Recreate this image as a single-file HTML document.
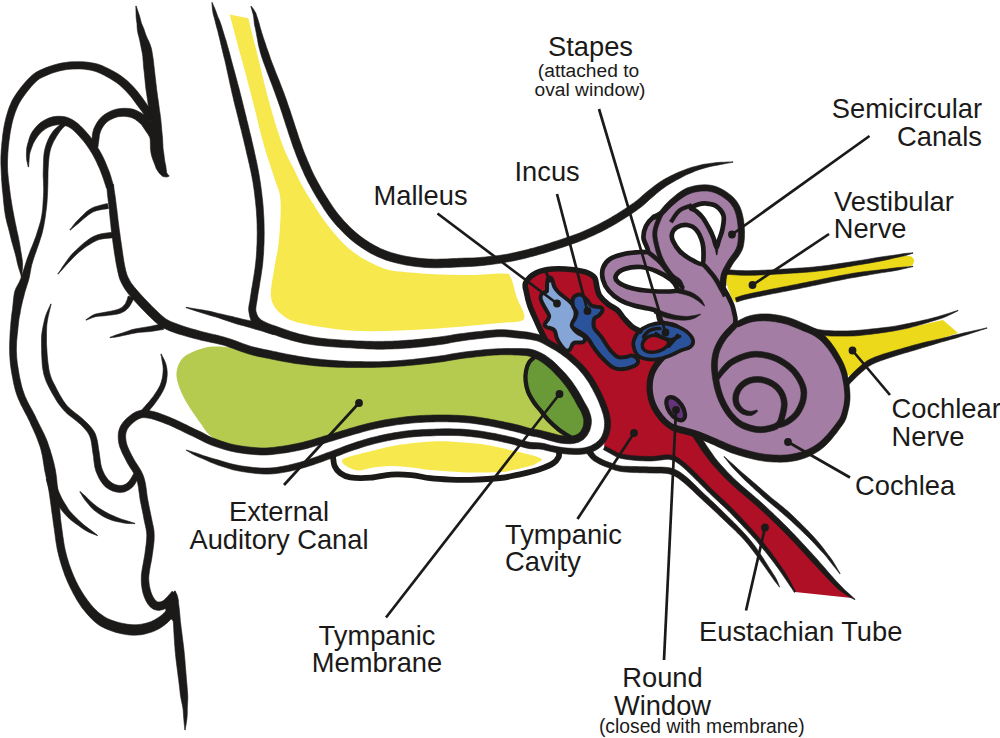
<!DOCTYPE html>
<html lang="en">
<head>
<meta charset="utf-8">
<title>Anatomy of the Ear</title>
<style>
html,body{margin:0;padding:0;background:#fff;}
body{width:1000px;height:738px;overflow:hidden;}
svg{display:block;}
svg text{font-family:"Liberation Sans",Arial,Helvetica,sans-serif;fill:#1b1a19;}
</style>
</head>
<body>
<svg width="1000" height="738" viewBox="0 0 1000 738">
<rect width="1000" height="738" fill="#fff"/>
<path d="M248.3,18.2C249.9,24.5 254.3,42.4 257.7,56C261.1,69.6 264.5,85.2 268.6,100C272.7,114.8 278.2,133.3 282.5,145C286.8,156.7 291.1,163.1 294.4,170C297.7,176.9 299.5,180.9 302.5,186.3C305.5,191.7 308.5,196.6 312.3,202.5C316.1,208.4 320.7,215.8 325.3,222C329.9,228.2 335.1,234.8 340,240C344.9,245.2 350,249.5 354.6,253C359.2,256.5 362.7,258.4 367.6,261C372.5,263.6 378.4,266.6 383.8,268.4C389.2,270.2 392.3,270.7 400,271.6C407.7,272.5 418.3,273.4 430,274C441.7,274.6 457.7,275.1 470,275C482.3,274.9 497.2,273 504,273.5C510.8,274 508.8,273.9 511,278C513.2,282.1 514.8,292 517,298C519.2,304 523.3,310.2 524,314C524.7,317.8 525,319.5 521,321C517,322.5 511.8,321.9 500,323C488.2,324.1 466.7,326.2 450,327.5C433.3,328.8 416.7,330 400,330.5C383.3,331 366.7,331.8 350,330.5C333.3,329.2 311.7,325.9 300,323C288.3,320.1 284.8,317.3 280,313C275.2,308.7 272,304.2 271,297C270,289.8 272.7,279.5 274,270C275.3,260.5 277.9,251.7 279,240C280.1,228.3 281.2,210 280.5,200C279.8,190 277.8,189.2 275,180C272.2,170.8 267.6,158.3 263.8,145C260.1,131.7 256.3,114.8 252.5,100C248.7,85.2 244.6,70.3 240.8,56C237,41.7 231.5,21.3 229.7,14.4Z" fill="#f7e84e"/>
<path d="M342.7,459.4C345.1,457.4 354.1,455.6 360.5,453.8C366.9,452 374,450.2 380.8,448.7C387.6,447.2 392.9,445.8 401.1,444.6C409.3,443.4 421.9,442 430,441.5C438.1,441 443.2,441.2 450,441.5C456.8,441.8 463.9,442.4 470.7,443.1C477.5,443.8 484.2,444.5 491,445.7C497.8,446.9 504.8,448.7 511.3,450.2C517.8,451.7 524.9,453.3 530,454.8C535.1,456.3 540.6,457.6 541.8,459C543,460.4 538.9,461.8 537,463C535.1,464.2 534.5,464.8 530.2,466C525.9,467.2 515.9,469.5 511,470.5C506.1,471.5 507.4,471.6 500.7,472C494,472.4 479.1,472.7 470.7,472.6C462.2,472.5 456.8,471.9 450,471.5C443.2,471.1 436.4,470.7 430,470C423.6,469.3 417.8,468.2 411.3,467.5C404.8,466.8 397.8,465.9 391,466C384.2,466.1 376.1,467.2 370.7,468C365.3,468.8 362.6,470.8 358.5,470.5C354.4,470.2 348.9,467.9 346.3,466C343.7,464.1 340.3,461.4 342.7,459.4Z" fill="#f7e84e"/>
<path d="M191,352.8C196.6,350.4 204,346.9 213.8,346.5C223.6,346.1 240.6,348.8 250,350.2C259.4,351.6 263.2,353.3 270,354.7C276.8,356.1 283.9,357.6 290.7,358.8C297.5,360 304.3,361 311,361.8C317.7,362.6 324.5,363.2 331,363.6C337.5,364 341.8,364.2 350,364.4C358.2,364.5 370,364.8 380,364.5C390,364.2 400,363.4 410,362.5C420,361.6 431.7,360.1 440,359C448.3,357.9 453.2,356.7 460,355.7C466.8,354.7 473.9,353.9 480.7,353.2C487.5,352.5 494.3,351.9 501,351.7C507.7,351.5 516.1,351.7 521,351.9C525.9,352.1 527,352 530.2,352.8C533.4,353.6 536.9,354.9 540.3,356.8C543.7,358.7 547.1,361.1 550.5,364C553.9,366.9 557.7,370.8 560.7,374.1C563.8,377.4 566.3,380.5 568.8,383.8C571.3,387.1 573.5,390.6 575.5,394C577.5,397.4 579.4,401.2 581,404C582.6,406.8 583.9,408.3 585,411C586.1,413.7 587.4,417.2 587.6,420.3C587.8,423.4 587.1,426.8 586,429.5C584.9,432.2 583.2,434.9 581,436.6C578.8,438.3 576.2,439.4 572.8,439.8C569.4,440.2 564.4,439.8 560.7,439.3C557,438.8 553.9,437.7 550.5,436.8C547.1,435.9 543.7,434.8 540.3,434C536.9,433.2 533.4,432.8 530,432C526.6,431.2 523.2,430 520,429.2C516.8,428.4 515.8,428.1 511,427C506.2,425.9 497.7,424 491,422.8C484.3,421.6 477.5,420.4 470.7,419.7C463.9,419 457.1,418.7 450.3,418.5C443.5,418.3 436.5,418.4 430,418.6C423.5,418.8 417.8,419.1 411.3,419.7C404.8,420.3 397.8,421.2 391,422.3C384.2,423.4 377.5,424.7 370.7,426.3C363.9,427.9 357.1,429.9 350.3,431.9C343.5,433.8 338.4,435.6 330,438C321.6,440.4 310,444.3 300,446.5C290,448.7 278.2,450.5 270,451.2C261.8,451.9 257.5,451.3 251,450.7C244.5,450.1 237.7,450.1 231,447.6C224.3,445.2 215.8,440.1 210.7,436C205.6,431.9 203.7,427.5 200.5,423.2C197.3,418.9 194.1,414.2 191.3,410C188.6,405.8 186.1,402.2 184,398C181.9,393.8 179.8,389.2 178.5,385C177.2,380.8 176.2,377 176.5,373C176.8,369 178.1,364.4 180.5,361C182.9,357.6 185.4,355.2 191,352.8Z" fill="#b4cb50"/>
<path d="M795,592C792.7,588.2 786.8,577.8 781,569.5C775.2,561.2 768.5,552 760.5,542.5C752.5,533 741.2,521 733,512.5C724.8,504 717.6,497.9 711,491.5C704.4,485.1 698.5,478.8 693.5,474C688.5,469.2 684.6,465.3 680.7,462.5C676.8,459.7 674.8,457.8 670,457.2C665.2,456.6 658,458.6 652,458.7C646,458.8 639.3,458.5 634,458C628.7,457.5 623.8,456.9 620,455.9C616.2,454.9 614.1,453.1 611.5,451.8C608.9,450.5 605.1,451.4 604.3,447.8C603.5,444.2 606.4,435.1 606.9,430.5C607.4,425.9 607.7,423.7 607.4,420.3C607.1,416.9 606.1,413.6 605,410C603.9,406.4 602.1,402.2 600.5,398.5C598.9,394.8 597.1,391.3 595.2,387.8C593.3,384.3 591.5,381.1 589.1,377.7C586.7,374.3 584,370.8 581,367.5C578,364.2 574.2,360.8 570.8,357.9C567.4,355 564.1,352.5 560.7,350.2C557.3,347.9 553.1,345.9 550.5,344.1C547.9,342.3 546.6,341.7 545,339.5C543.4,337.3 542.5,334.2 541,331C539.5,327.8 537.9,324.2 536,320C534.1,315.8 531.4,310.1 529.8,305.5C528.2,300.9 527.2,296.3 526.5,292.5C525.8,288.7 524.1,286.1 525.7,282.8C527.3,279.6 531.5,275.3 536,273C540.5,270.7 546.2,269.5 552.5,269C558.8,268.5 567.8,269.1 573.7,269.8C579.6,270.5 584.5,271.6 588,273C591.5,274.4 593.3,275.6 594.8,278C596.3,280.4 596.2,284.6 597,287.6C597.8,290.6 597.9,293.1 599.7,295.8C601.5,298.5 604.8,301.6 607.8,304C610.8,306.4 614.9,308 617.6,310.4C620.3,312.8 621.6,315.8 624,318.5C626.4,321.2 628.5,324.8 632,326.7C635.5,328.6 638.2,330.3 645,330C651.8,329.7 665.5,323.3 673,325C680.5,326.7 689.5,336 690,340C690.5,344 680.3,346.3 676,349C671.7,351.7 668,352 664,356C660,360 654.3,366.8 652,373C649.7,379.2 649.2,386.5 650,393C650.8,399.5 653.3,406.3 657,412C660.7,417.7 665.5,423.3 672,427C678.5,430.7 690.8,430.7 696,434C701.2,437.3 699.3,441.7 703,447C706.7,452.3 712.3,459.5 718,466C723.7,472.5 729.7,479 737,486C744.3,493 753.8,500.7 762,508C770.2,515.3 777.8,522 786,530C794.2,538 802.8,547.2 811,556C819.2,564.8 828.2,576 835,583C841.8,590 849.2,595.5 852,598Z" fill="#af1025"/>
<path d="M726,272C728.7,267.3 739.3,273.2 750,273C760.7,272.8 777.5,271.8 790,271C802.5,270.2 810.8,269.8 825,268C839.2,266.2 861.7,262 875,260C888.3,258 898.7,256.3 905,256C911.3,255.7 911.7,256.7 913,258C914.3,259.3 914.3,262.5 913,264C911.7,265.5 915.5,265 905,267C894.5,269 867.5,272.8 850,276C832.5,279.2 816.7,282.7 800,286C783.3,289.3 761,293.5 750,296C739,298.5 738,305 734,301C730,297 723.3,276.7 726,272Z" fill="#ecd919"/>
<path d="M800,326L820,334L863,335L900,330L943,320L958,333L913,348L875,360L855,378L840,372L835,350Z" fill="#ecd919"/>
<path d="M690,340C690,336.2 680.8,329 676,326C671.2,323 664.2,324.4 661,322C657.8,319.6 659.2,313.8 657,311.5C654.8,309.2 651.8,309.5 648,308.5C644.2,307.5 638.7,306.9 634,305.5C629.3,304.1 624.2,302.4 620,300C615.8,297.6 611.8,294.3 609,291C606.2,287.7 604,283.8 603,280C602,276.2 601.8,271.5 603,268C604.2,264.5 606.5,261.3 610,259C613.5,256.7 619,255.2 624,254C629,252.8 636,252.5 640,252C644,251.5 647.4,253.3 648,251C648.6,248.7 643.8,242.2 643.5,238C643.2,233.8 644.4,229.4 646,226C647.6,222.6 650.6,219.5 653,217.5C655.4,215.5 657.5,216.4 660.5,214C663.5,211.6 666.4,206.8 671,203C675.6,199.2 681.8,193.5 688,191C694.2,188.5 702,187.5 708,188C714,188.5 719.3,191 724,194C728.7,197 733.2,200.8 736,206C738.8,211.2 740.3,218.2 741,225C741.7,231.8 741.8,240.7 740,247C738.2,253.3 732.7,258.3 730,263C727.3,267.7 725.2,271.2 724,275C722.8,278.8 722.3,282.5 723,286C723.7,289.5 726.4,292.7 728,296C729.6,299.3 731.2,302.1 732.4,305.6C733.6,309.1 734.4,313.9 735.2,317C736,320.1 734.4,324.2 737,324.5C739.6,324.8 745.8,320 750.8,318.8C755.8,317.6 761.2,317.1 767,317.4C772.8,317.6 779.6,318.8 785.4,320.3C791.2,321.8 796.5,324.3 801.6,326.4C806.7,328.5 811.8,330.5 815.9,333C820,335.5 822.6,337.8 826,341.6C829.4,345.4 833.2,350.8 836.2,355.9C839.2,361 841.9,365.5 843.8,372C845.7,378.5 847.2,388.3 847.4,395C847.6,401.7 846.3,407.2 845,412C843.7,416.8 843.7,418.3 839.5,424C835.3,429.7 827.2,440.5 820,446C812.8,451.5 804.8,455 796,457C787.2,459 776.8,459 767,458C757.2,457 746,453.8 737,451C728,448.2 719.8,443.8 713,441C706.2,438.2 702.8,436.3 696,434C689.2,431.7 678.5,430.7 672,427C665.5,423.3 660.7,417.7 657,412C653.3,406.3 650.8,399.5 650,393C649.2,386.5 649.7,379.2 652,373C654.3,366.8 660,360 664,356C668,352 671.7,351.7 676,349C680.3,346.3 690,343.8 690,340ZM691,208C691.3,206.9 695.5,205.2 698,204.5C700.5,203.8 703,203.2 706,203.5C709,203.8 713.1,204 716,206C718.9,208 722.4,211.8 723.5,215.6C724.6,219.4 723.2,224.9 722.5,229C721.8,233.1 720,237 719,240C718,243 717.4,247.3 716.5,247C715.6,246.7 714.6,240.8 713.5,238C712.4,235.2 711.8,233.3 710,230C708.2,226.7 705.3,221.2 703,218C700.7,214.8 698,212.7 696,211C694,209.3 690.7,209.1 691,208ZM672,234C672.6,231.8 674,229 676.5,227.5C679,226 683.7,224.6 687,225C690.3,225.4 693.8,227 696.4,230C699,233 701.3,238.5 702.5,242.8C703.7,247.1 703.6,252.5 703.5,256C703.4,259.5 703.9,263.4 701.8,264C699.7,264.6 694.6,261.6 691,259.5C687.4,257.4 683,254.6 680,251.5C677,248.4 674.3,243.9 673,241C671.7,238.1 671.4,236.2 672,234ZM616,275.5C617.1,273.3 620.3,270.4 624.5,269C628.7,267.6 635.6,266.6 641,267C646.4,267.4 652,269.4 657,271.5C662,273.6 667.7,276.9 671,279.6C674.3,282.4 676.3,286.1 677,288C677.7,289.9 679.3,290.5 675,291C670.7,291.5 658.3,291.5 651,291C643.7,290.5 636.5,289.5 631,288C625.5,286.5 620.5,284.1 618,282C615.5,279.9 614.9,277.7 616,275.5Z" fill="#a37da4" fill-rule="evenodd" stroke="#1b1a19" stroke-width="4.7" stroke-linejoin="round"/>
<path d="M713,441C710.2,439.8 702.8,436.3 696,434C689.2,431.7 678.5,430.7 672,427C665.5,423.3 660.7,417.7 657,412C653.3,406.3 650.8,399.5 650,393C649.2,386.5 649.7,379.2 652,373C654.3,366.8 660,360 664,356C668,352 671.7,351.7 676,349C680.3,346.3 687.7,341.5 690,340" fill="none" stroke="#1b1a19" stroke-width="6.2" stroke-linecap="round" stroke-linejoin="round"/>
<path d="M653.8,219.7L657.1,218.7L661.9,216.2L664.2,214.1L666.2,212L668.3,209.7L670.5,207.4L672.9,205.2L675.3,203.2L677.9,201L680.7,198.9L683.6,196.9L686.4,195.2L689.2,193.9L692.1,192.8L695.3,192L698.5,191.4L701.7,191.1L704.9,191L707.7,191.1L710.9,191.6L713.9,192.4L716.8,193.6L719.6,195L722.3,196.6L724.9,198.4L727.4,200.4L729.6,202.5L731.6,204.9L733.3,207.5L734.5,209.9L735.5,212.7L736.3,215.6L737,218.8L737.5,222L737.9,225.3L738.2,228.2L738.3,231.3L738.4,234.5L738.3,237.7L738.1,240.7L737.7,243.6L737.1,246.1L736.1,248.8L734.7,251.3L732.9,253.9L731,256.4L729.2,259L727.5,261.5L725.6,264.9L723.9,268L722.4,271L721.2,274.3L720.4,278.8L720.2,283.1L720.1,285.9L725.9,286.1L726,283.3L726.1,279.5L726.8,275.7L727.7,273.3L729,270.7L730.6,267.7L732.5,264.5L733.9,262.3L735.7,259.9L737.7,257.4L739.7,254.5L741.5,251.3L742.9,247.9L743.6,244.7L744.1,241.4L744.4,238L744.5,234.6L744.5,231.1L744.3,227.8L744.1,224.7L743.7,221.1L743.1,217.6L742.3,214.1L741.4,210.7L740.2,207.5L738.7,204.5L736.6,201.2L734.2,198.3L731.5,195.7L728.6,193.4L725.7,191.4L722.6,189.6L719.4,187.9L715.9,186.5L712.2,185.5L708.3,184.9L704.9,184.8L701.3,184.9L697.6,185.3L693.9,186L690.3,186.9L686.8,188.1L683.4,189.8L680.2,191.8L677.1,194.1L674.2,196.4L671.5,198.7L669.1,200.8L666.4,203.4L664.1,206L662.1,208.4L660.4,210.5L659.1,211.8L655,214.2L652.2,215.3Z" fill="#1b1a19" stroke="#1b1a19" stroke-width="0.6" stroke-linejoin="round"/>
<path d="M659.1,213.2L658.3,215.1L657.2,217.6L655.9,220.7L654.6,224.1L653.6,227.5L652.9,230.7L652.7,234.3L652.9,237.7L653.5,241L654.2,244.3L655,247.5L655.8,250.8L656.8,254L658,257.3L659.5,260.7L661.2,264L662.9,267L665,270L667.2,273L669.4,275.9L671.5,278.6L673.4,281L677,284.7L680.3,287.4L682.4,289.2L684.6,286.8L682.6,284.9L679.8,281.9L676.6,278.2L674.8,276L672.7,273.4L670.5,270.5L668.4,267.6L666.5,264.7L664.8,262L663.3,258.9L661.9,255.8L660.8,252.7L659.9,249.6L659,246.5L658.3,243.3L657.6,240.3L657.1,237.2L656.9,234.3L657.1,231.3L657.6,228.6L658.6,225.5L659.8,222.3L661.1,219.3L662.2,216.7L662.9,214.8Z" fill="#1b1a19" stroke="#1b1a19" stroke-width="0.6" stroke-linejoin="round"/>
<path d="M700.5,264.5L703,267L706.4,270.8L708.2,272.9L710.2,275.2L712.2,277.8L714.2,280.7L715.7,283.2L717.4,286.2L719.1,289.4L720.8,292.5L722.2,295.1L723.1,297L726.9,295L725.9,293.2L724.5,290.5L722.9,287.4L721.1,284.2L719.4,281.1L717.8,278.5L715.6,275.3L713.4,272.6L711.4,270.2L709.6,268L706,264.1L703.5,261.5Z" fill="#1b1a19" stroke="#1b1a19" stroke-width="0.6" stroke-linejoin="round"/>
<path d="M715.2,241.9L715.2,245L715.3,249L715.9,252.5L716.6,255L717,255L717.5,252.4L717.9,249L718.4,245.2L718.8,242.1Z" fill="#1b1a19" stroke="#1b1a19" stroke-width="0.6" stroke-linejoin="round"/>
<path d="M672.6,223L674,220.8L676,217.6L678.3,214.4L680.6,211.9L683.3,210.3L686.7,209L689.9,207.9L692.2,207.2L691,203.6L688.7,204.4L685.4,205.5L681.7,207L678.2,209.1L675.4,212L672.9,215.5L670.9,218.8L669.4,221Z" fill="#1b1a19" stroke="#1b1a19" stroke-width="0.6" stroke-linejoin="round"/>
<path d="M646.7,253.6L648.4,255L650.7,256.8L653.4,259L656.2,261.3L658.5,263.5L660.5,265.7L662.5,268.1L664.4,270.6L666.4,273.1L668.5,275.3L671.3,277.6L674.2,279.5L676.6,281L678.2,282.5L679.6,285.1L680.5,288.1L681,290.3L684.2,289.7L683.7,287.3L683,283.9L681.2,280.3L678.8,278.1L676.2,276.4L673.5,274.6L671.1,272.7L669.3,270.7L667.5,268.3L665.7,265.7L663.7,263L661.5,260.5L658.9,258.1L656.1,255.8L653.3,253.5L651,251.7L649.3,250.4Z" fill="#1b1a19" stroke="#1b1a19" stroke-width="0.6" stroke-linejoin="round"/>
<path d="M676.5,292.5L679,293.2L682.5,294L686.3,295L689.2,295.9L693.1,297.7L695.9,299.5L698.2,300.9L700,302.4L702.4,304.5L704.3,306.1L704.7,305.9L703.6,303.5L702,300.6L700.3,298.5L698.1,296.5L695,294.3L690.8,292.1L687.4,291L683.6,290L680,289.1L677.5,288.5Z" fill="#1b1a19" stroke="#1b1a19" stroke-width="0.6" stroke-linejoin="round"/>
<path d="M654.1,313.2L656.3,314L659.4,315.3L662.9,316.6L666.3,317.8L669.6,318.6L673,319.2L676.3,319.7L679.5,320.1L683.6,320.2L687.5,319.9L691.3,319.3L695.1,317.9L698.3,315.9L700.6,314.5L700.4,314.1L697.9,314.7L694.3,315.5L690.7,316.1L687.3,316.4L683.7,316.3L679.9,315.9L676.9,315.5L673.8,314.9L670.7,314.1L667.7,313.2L664.5,312.2L661.1,310.9L658,309.7L655.9,308.8Z" fill="#1b1a19" stroke="#1b1a19" stroke-width="0.6" stroke-linejoin="round"/>
<path d="M738.2,327L740.6,325.9L744.1,324.5L748,323L751.6,321.9L754.4,321.4L757.4,321L760.4,320.9L763.6,320.8L766.9,320.9L769.7,321.1L772.6,321.4L775.6,321.8L778.7,322.4L781.7,323L784.5,323.7L787.7,324.6L790.9,325.8L794,327L797.2,328.3L800.3,329.6L803.3,330.9L806.3,332L809.2,333.2L811.8,334.4L814.2,335.8L816.8,337.5L819.1,339.2L821.4,341.2L823.7,343.7L825.7,346L827.8,348.6L829.9,351.5L831.9,354.4L833.7,357.4L835.5,360.3L837.1,363.2L838.7,366.1L840,369.3L841.2,372.8L842,375.6L842.7,378.8L843.3,382.1L843.9,385.6L844.3,389L844.6,392.2L844.8,395L844.7,398.7L844.4,402.1L843.9,405.3L843.2,408.4L842.4,411.3L841.6,414.3L840.7,416.6L839.5,418.9L837.1,422.3L835.6,424.3L833.9,426.6L831.9,429.1L829.7,431.8L827.4,434.4L825,437L822.6,439.4L820.3,441.6L818,443.4L815.4,445.3L812.7,446.9L810,448.4L807.2,449.7L804.3,450.9L801.4,451.9L798.3,452.8L795.2,453.6L792.4,454.1L789.5,454.6L786.5,454.9L783.4,455.1L780.2,455.2L777,455.1L773.8,455L770.6,454.8L767.4,454.5L764.5,454.2L761.6,453.7L758.6,453.2L755.6,452.5L752.5,451.8L749.5,451L746.5,450.2L743.6,449.4L740.8,448.5L738.1,447.7L734.8,446.6L731.7,445.4L728.6,444.2L725.6,442.9L722.6,441.6L719.7,440.4L716.9,439.1L714.3,438L711.1,436.7L708.4,435.5L705.7,434.4L703.1,433.4L700.2,432.3L697,431.2L694.1,430.2L690.8,429.2L687.3,428.3L683.7,427.3L680.3,426.4L677.2,425.6L674.6,424.9L672.8,424.4L671.2,429.6L673.2,430.2L675.7,430.9L678.8,431.8L682.2,432.8L685.6,433.9L689.1,434.9L692.3,435.9L695,436.8L698.1,438L700.8,439.1L703.3,440.2L705.8,441.4L708.6,442.6L711.7,444L714.3,445.1L717,446.4L719.8,447.7L722.8,449.1L725.9,450.5L729.1,451.9L732.5,453.2L735.9,454.3L738.7,455.2L741.6,456.1L744.6,456.9L747.7,457.8L750.9,458.6L754,459.3L757.2,460L760.4,460.6L763.5,461.1L766.6,461.5L770,461.8L773.4,462L776.8,462.1L780.3,462.2L783.7,462.1L787,461.9L790.3,461.5L793.6,461L796.8,460.4L800.2,459.5L803.5,458.5L806.8,457.3L810,455.9L813.1,454.3L816.1,452.6L819.1,450.7L822,448.6L824.6,446.4L827.2,443.9L829.7,441.3L832.1,438.5L834.4,435.6L836.6,432.9L838.5,430.2L840.3,427.8L841.9,425.7L844.4,421.9L845.9,418.8L846.8,415.9L847.6,412.7L848.4,409.6L849.1,406.3L849.6,402.8L850,399L850,395L849.8,391.8L849.5,388.4L849.1,384.8L848.6,381.2L847.9,377.7L847.2,374.3L846.4,371.2L845.1,367.4L843.7,363.8L842.1,360.6L840.4,357.5L838.7,354.4L836.8,351.3L834.8,348.1L832.6,345L830.5,342.1L828.3,339.5L825.8,336.8L823.3,334.4L820.6,332.3L817.6,330.2L814.9,328.6L812,327.2L809,325.8L806,324.4L802.9,323.2L799.9,321.9L796.7,320.5L793.4,319.2L789.9,318L786.3,316.9L783.2,316.2L780,315.5L776.8,314.9L773.5,314.5L770.3,314.1L767.1,313.9L763.6,313.9L760,314L756.6,314.4L753.3,314.9L750,315.7L745.8,317.1L741.7,319L738.2,320.8L735.8,322Z" fill="#1b1a19" stroke="#1b1a19" stroke-width="0.6" stroke-linejoin="round"/>
<path d="M734.1,321.4L733.9,321.7L732.4,323.5L730.8,325.1L728.7,327.3L726.2,329.8L723.8,332.5L721.6,335.2L719.3,338.5L717.3,342L715.5,345.5L714.1,349L713,352.5L712.3,356L711.8,359.4L711.5,362.8L711.4,366.3L711.6,369.7L711.9,373.1L712.3,376.4L712.8,379.7L713.4,383.1L714.1,386.4L714.9,389.8L715.9,393.1L717,396.5L718.3,399.9L719.8,403.3L721.5,406.7L723.4,410.1L725.6,413.5L728,416.7L730.5,419.6L733.2,422.3L736.3,424.9L739.7,427.1L742.9,428.7L746.3,430L749.8,431.1L753.2,431.9L756.6,432.5L760.5,432.7L764.2,432.4L767.6,431.9L770.6,431.2L774.2,430.3L777.6,428.8L780.6,426.6L782.8,423.5L784.1,420.1L785.1,416.6L785.9,413.5L786.6,410.1L787.1,406.4L787.2,402.8L786.5,398.4L785.1,394.1L783.2,390.3L780.6,386.8L777.5,383.8L774.1,381.4L771.1,379.8L768,378.5L764.8,377.5L761.6,376.8L757.3,376.5L753,376.8L748.9,377.7L745.1,379.3L741.7,381.6L738.7,384.2L736.2,387.4L734.4,390.9L733.2,394.6L732.8,398.4L733.1,402.2L734.2,405.8L736.3,409.1L739.1,411.8L742.2,414L747,415.4L751.7,415.4L755.5,413.3L757.7,411.1L756.9,409.9L754.2,410.8L751.1,411.4L747.8,411L744.4,409.6L742.5,408L740.6,405.8L739.4,403.6L738.7,401.2L738.5,398.5L738.8,395.8L739.7,393.2L741.1,390.5L742.9,388.2L745.1,386.2L747.8,384.5L750.7,383.3L753.8,382.6L757.3,382.3L760.8,382.6L763.4,383.1L766.1,383.9L768.6,385L770.9,386.2L773.8,388.3L776.2,390.7L778.2,393.3L779.8,396.3L780.9,399.7L781.4,403.2L781.3,405.9L780.9,409.1L780.2,412.2L779.5,415L778.6,418.3L777.6,420.7L776.4,422.4L774.7,423.6L772.3,424.6L769.2,425.4L766.5,426L763.5,426.5L760.4,426.7L757.2,426.5L754.5,426L751.4,425.3L748.3,424.3L745.3,423.1L742.7,421.9L739.8,420.1L737.3,417.9L734.9,415.5L732.6,412.9L730.5,410.1L728.6,407.1L726.8,403.9L725.2,400.7L723.8,397.6L722.6,394.5L721.6,391.4L720.7,388.2L719.9,385.1L719.3,381.9L718.7,378.8L718.3,375.6L717.9,372.4L717.6,369.3L717.4,366.2L717.5,363.2L717.7,360.1L718.2,357L718.8,354L719.7,351L721,348L722.6,344.8L724.4,341.8L726.4,338.8L728.3,336.4L730.6,333.9L733,331.5L735.1,329.3L736.8,327.5L738.6,325.4L739.1,324.6Z" fill="#1b1a19" stroke="#1b1a19" stroke-width="0.6" stroke-linejoin="round"/>
<path d="M719.2,379.3L720.2,377.9L721.7,376.1L723.4,373.9L726.1,371L727.8,369.2L729.8,367.2L732,365.3L734.9,363.5L737.4,362.3L740.3,360.9L743.5,359.6L746.8,358.5L750.1,357.7L753.3,357.2L756,357.1L758.8,357.2L761.7,357.5L764.7,358.1L767.6,358.7L770.5,359.6L773.2,360.5L775.8,361.6L778.4,362.9L780.9,364.4L783.4,366L785.8,367.7L788,369.5L790,371.3L792.1,373.5L794,376L795.8,378.6L797.4,381.2L798.7,383.8L799.7,386.1L800.6,389.5L801,392.6L800.9,395.7L800.4,398.9L799.7,401.6L798.6,404.3L797.3,407.1L795.8,409.7L794.4,411.9L792.4,414.3L790.1,416.3L787.7,418.1L785.7,419.5L781.6,421.7L778.6,422.8L780.2,427.6L783.6,426.6L788.3,424.5L791,422.7L793.7,420.8L796.5,418.3L799,415.5L800.8,412.7L802.5,409.8L804,406.6L805.2,403.3L806,400.1L806.6,396.2L806.8,392.3L806.3,388.3L805.1,384.3L803.9,381.4L802.5,378.4L800.7,375.5L798.7,372.5L796.5,369.7L794,367.1L791.8,365.1L789.3,363.1L786.7,361.2L784,359.4L781.1,357.8L778.2,356.3L775.2,355.1L772.2,354L769.1,353.1L765.8,352.4L762.6,351.8L759.3,351.4L756,351.3L752.7,351.4L749,352L745.2,352.9L741.5,354.2L738,355.6L734.9,357.1L732.1,358.5L728.6,360.7L725.8,363.1L723.7,365.4L721.9,367.4L719.3,370.9L717.7,373.9L717.2,376.8L717.2,378.7Z" fill="#1b1a19" stroke="#1b1a19" stroke-width="0.6" stroke-linejoin="round"/>
<ellipse cx="675.7" cy="408.7" rx="7" ry="13.2" transform="rotate(-34 675.7 408.7)" fill="#64337b" stroke="#1b1a19" stroke-width="4.2"/>
<path d="M550,279.5C550.6,279.8 551.3,285.2 552.5,287.6C553.7,290 555.2,291.8 557.4,294C559.6,296.2 563.1,298.4 565.5,300.6C567.9,302.8 570.6,304.6 572,307C573.4,309.4 573.8,312.3 573.6,315C573.4,317.7 571.3,320.9 571,323.4C570.7,325.9 571,328.1 572,330C573,331.9 575.2,333.5 577,334.8C578.8,336.1 581.8,337.1 582.6,338C583.4,338.9 583.1,340.1 581.8,340.5C580.5,340.9 576.8,340.1 575,340.5C573.2,340.9 572.2,341.6 571,343C569.8,344.4 569.2,348.1 568,348.6C566.8,349.1 565.5,347.8 564,346C562.5,344.2 560.2,340.7 559,338C557.8,335.3 557.7,331.9 556.6,330C555.5,328.1 554.1,327.5 552.5,326.7C550.9,325.9 547.2,326.1 546.8,325C546.4,323.9 549.3,321.7 550,320C550.7,318.3 551.5,317.2 551,315C550.5,312.8 548.2,309.7 546.8,307C545.4,304.3 543.3,301 542.8,299C542.3,297 542.6,296.1 543.6,295C544.6,293.9 547.6,294 548.5,292.5C549.4,291 548.8,288.2 549,286C549.2,283.8 549.4,279.2 550,279.5Z" fill="#1b1a19" stroke="#1b1a19" stroke-width="8" stroke-linejoin="round"/>
<path d="M550,279.5C550.6,279.8 551.3,285.2 552.5,287.6C553.7,290 555.2,291.8 557.4,294C559.6,296.2 563.1,298.4 565.5,300.6C567.9,302.8 570.6,304.6 572,307C573.4,309.4 573.8,312.3 573.6,315C573.4,317.7 571.3,320.9 571,323.4C570.7,325.9 571,328.1 572,330C573,331.9 575.2,333.5 577,334.8C578.8,336.1 581.8,337.1 582.6,338C583.4,338.9 583.1,340.1 581.8,340.5C580.5,340.9 576.8,340.1 575,340.5C573.2,340.9 572.2,341.6 571,343C569.8,344.4 569.2,348.1 568,348.6C566.8,349.1 565.5,347.8 564,346C562.5,344.2 560.2,340.7 559,338C557.8,335.3 557.7,331.9 556.6,330C555.5,328.1 554.1,327.5 552.5,326.7C550.9,325.9 547.2,326.1 546.8,325C546.4,323.9 549.3,321.7 550,320C550.7,318.3 551.5,317.2 551,315C550.5,312.8 548.2,309.7 546.8,307C545.4,304.3 543.3,301 542.8,299C542.3,297 542.6,296.1 543.6,295C544.6,293.9 547.6,294 548.5,292.5C549.4,291 548.8,288.2 549,286C549.2,283.8 549.4,279.2 550,279.5Z" fill="#84a5d5"/>
<path d="M546,272C546.7,273.5 549.3,279.5 550,281" fill="none" stroke="#1b1a19" stroke-width="3" stroke-linecap="round" stroke-linejoin="round"/>
<path d="M575,299C575.8,297.5 578.3,296.3 580,296.6C581.7,296.9 583.3,298.9 585,300.6C586.7,302.3 588.1,305.6 590,307C591.9,308.4 594.6,308.4 596.4,308.8C598.1,309.2 600.2,308.8 600.5,309.6C600.8,310.4 599.2,312.5 598,313.7C596.8,314.9 594.1,315.4 593,317C591.9,318.6 591.5,321.2 591.5,323.4C591.5,325.6 591.6,327.6 593,330C594.4,332.4 597.5,335 599.7,338C601.9,341 604.1,345.1 606,347.8C607.9,350.5 609.1,352.1 611,354C612.9,355.9 615.1,358.2 617.6,359C620.1,359.8 623.3,359.2 625.7,359C628.1,358.8 630.3,357.3 632,357.6C633.7,357.9 635.7,359.7 636,360.8C636.3,361.9 635.8,363 633.8,364C631.8,365 627.3,366.7 624,367C620.7,367.3 617.2,367.3 614,365.7C610.8,364.1 607.5,360.6 604.6,357.6C601.7,354.6 598.8,351.1 596.4,347.8C594,344.5 591.9,340.5 590,338C588.1,335.5 587.2,334.7 585,333C582.8,331.3 578.9,329.3 577,328C575.1,326.7 573.7,326.6 573.7,325C573.7,323.4 576.2,320.7 577,318.5C577.8,316.3 578.8,314.2 578.5,312C578.2,309.8 575.6,307.7 575,305.5C574.4,303.3 574.2,300.5 575,299Z" fill="#1b1a19" stroke="#1b1a19" stroke-width="8" stroke-linejoin="round"/>
<path d="M575,299C575.8,297.5 578.3,296.3 580,296.6C581.7,296.9 583.3,298.9 585,300.6C586.7,302.3 588.1,305.6 590,307C591.9,308.4 594.6,308.4 596.4,308.8C598.1,309.2 600.2,308.8 600.5,309.6C600.8,310.4 599.2,312.5 598,313.7C596.8,314.9 594.1,315.4 593,317C591.9,318.6 591.5,321.2 591.5,323.4C591.5,325.6 591.6,327.6 593,330C594.4,332.4 597.5,335 599.7,338C601.9,341 604.1,345.1 606,347.8C607.9,350.5 609.1,352.1 611,354C612.9,355.9 615.1,358.2 617.6,359C620.1,359.8 623.3,359.2 625.7,359C628.1,358.8 630.3,357.3 632,357.6C633.7,357.9 635.7,359.7 636,360.8C636.3,361.9 635.8,363 633.8,364C631.8,365 627.3,366.7 624,367C620.7,367.3 617.2,367.3 614,365.7C610.8,364.1 607.5,360.6 604.6,357.6C601.7,354.6 598.8,351.1 596.4,347.8C594,344.5 591.9,340.5 590,338C588.1,335.5 587.2,334.7 585,333C582.8,331.3 578.9,329.3 577,328C575.1,326.7 573.7,326.6 573.7,325C573.7,323.4 576.2,320.7 577,318.5C577.8,316.3 578.8,314.2 578.5,312C578.2,309.8 575.6,307.7 575,305.5C574.4,303.3 574.2,300.5 575,299Z" fill="#2a539b"/>
<path d="M635.6,341C636.3,338.8 637.7,335.5 640,333.2C642.3,330.9 645.7,328.6 649.5,327.2C653.2,325.8 658.2,324.7 662.6,324.9C667,325.1 672.1,326.7 675.8,328.1C679.6,329.5 682.9,331.2 685.4,333.1C687.9,335.1 690.2,337.8 690.9,339.8C691.6,341.8 691.3,343.6 689.4,345.2C687.5,346.7 682.9,347.6 679.5,349.1C676.1,350.5 672.9,352.5 669,353.9C665.1,355.3 660.1,357 656.1,357.5C652.2,358 648.1,357.6 645.2,356.9C642.2,356.2 640,355 638.4,353.3C636.8,351.5 636,348.5 635.6,346.5C635.1,344.5 634.9,343.3 635.6,341Z" fill="#1b1a19" stroke="#1b1a19" stroke-width="7.6" stroke-linejoin="round"/>
<path d="M635.6,341C636.3,338.8 637.7,335.5 640,333.2C642.3,330.9 645.7,328.6 649.5,327.2C653.2,325.8 658.2,324.7 662.6,324.9C667,325.1 672.1,326.7 675.8,328.1C679.6,329.5 682.9,331.2 685.4,333.1C687.9,335.1 690.2,337.8 690.9,339.8C691.6,341.8 691.3,343.6 689.4,345.2C687.5,346.7 682.9,347.6 679.5,349.1C676.1,350.5 672.9,352.5 669,353.9C665.1,355.3 660.1,357 656.1,357.5C652.2,358 648.1,357.6 645.2,356.9C642.2,356.2 640,355 638.4,353.3C636.8,351.5 636,348.5 635.6,346.5C635.1,344.5 634.9,343.3 635.6,341Z" fill="#2a539b"/>
<path d="M644,345.4C644,343.7 645.3,341.1 647,339.7C648.7,338.3 651.4,336.9 654,336.9C656.6,336.9 660.5,338.8 662.7,339.7C664.9,340.6 667,341.2 667,342.5C667,343.8 664.9,346.2 662.7,347.5C660.5,348.8 656.6,350 654,350.4C651.4,350.8 648.7,350.5 647,349.7C645.3,348.9 644,347.1 644,345.4Z" fill="#1b1a19" stroke="#1b1a19" stroke-width="6.8" stroke-linejoin="round"/>
<path d="M644,345.4C644,343.7 645.3,341.1 647,339.7C648.7,338.3 651.4,336.9 654,336.9C656.6,336.9 660.5,338.8 662.7,339.7C664.9,340.6 667,341.2 667,342.5C667,343.8 664.9,346.2 662.7,347.5C660.5,348.8 656.6,350 654,350.4C651.4,350.8 648.7,350.5 647,349.7C645.3,348.9 644,347.1 644,345.4Z" fill="#af1025"/>
<path d="M660,328.5C659,328.6 656,328.5 654,329C652,329.5 649.8,330.2 648,331.5C646.2,332.8 644.2,336.1 643.5,337" fill="none" stroke="#1b1a19" stroke-width="3.6" stroke-linecap="round" stroke-linejoin="round"/>
<path d="M669,346C670,344.8 673.6,340.8 675,339C676.4,337.2 677.1,336.1 677.5,335.5" fill="none" stroke="#1b1a19" stroke-width="3.6" stroke-linecap="round" stroke-linejoin="round"/>
<path d="M656,333.5C657.1,334.2 660.2,336.5 662.7,337.5C665.2,338.5 668.2,339.9 671,339.7C673.8,339.5 678.2,337 679.7,336.5" fill="none" stroke="#1b1a19" stroke-width="3.4" stroke-linecap="round" stroke-linejoin="round"/>
<path d="M535.2,356.8C533.3,357.7 530.6,360.1 529.1,362.4C527.6,364.7 526.7,367.6 526.1,370.6C525.5,373.7 525.3,377.1 525.6,380.7C525.9,384.2 526.8,388.3 528.1,391.9C529.5,395.4 531.7,398.9 533.7,402C535.7,405.1 537.8,407.1 540.3,410.2C542.8,413.2 545.5,417.1 548.5,420.3C551.5,423.5 555.4,426.9 558.6,429.5C561.8,432.1 565.2,434.1 567.8,435.6C570.4,437.1 571.8,438.4 574,438.6C576.2,438.8 579,438.1 581,436.6C583,435.1 584.9,432.2 586,429.5C587.1,426.8 587.8,423.4 587.6,420.3C587.4,417.2 586.1,413.7 585,411C583.9,408.3 582.6,406.8 581,404C579.4,401.2 577.5,397.4 575.5,394C573.5,390.6 571.3,387.1 568.8,383.8C566.3,380.5 563.8,377.4 560.7,374.1C557.7,370.8 553.9,366.9 550.5,364C547.1,361.1 542.8,358 540.3,356.8C537.8,355.6 537.1,355.9 535.2,356.8Z" fill="#6a9a38"/>
<path d="M536,355.8C534.9,356.9 530.8,359.9 529.1,362.4C527.5,364.9 526.7,367.6 526.1,370.6C525.5,373.7 525.3,377.1 525.6,380.7C525.9,384.2 526.8,388.3 528.1,391.9C529.5,395.4 531.7,398.9 533.7,402C535.7,405.1 537.8,407.1 540.3,410.2C542.8,413.2 545.5,417.1 548.5,420.3C551.5,423.5 555.4,426.9 558.6,429.5C561.8,432.1 565.3,434 567.8,435.6C570.3,437.2 572.5,438.4 573.5,439" fill="none" stroke="#1b1a19" stroke-width="4.3" stroke-linecap="round" stroke-linejoin="round"/>
<path d="M545.5,340C544.8,338.5 542.6,334.3 541,331C539.4,327.7 537.9,324.2 536,320C534.1,315.8 531.4,310.1 529.8,305.5C528.2,300.9 527.2,296.3 526.5,292.5C525.8,288.7 524.1,286.1 525.7,282.8C527.3,279.6 531.5,275.3 536,273C540.5,270.7 546.2,269.5 552.5,269C558.8,268.5 567.8,269.1 573.7,269.8C579.6,270.5 584.5,271.6 588,273C591.5,274.4 593.3,275.6 594.8,278C596.3,280.4 596.2,284.6 597,287.6C597.8,290.6 597.9,293.1 599.7,295.8C601.5,298.5 604.8,301.6 607.8,304C610.8,306.4 614.9,308 617.6,310.4C620.3,312.8 621.6,315.8 624,318.5C626.4,321.2 629.3,324.6 632,326.7C634.7,328.8 638.7,330.3 640,331" fill="none" stroke="#1b1a19" stroke-width="5.6" stroke-linecap="round" stroke-linejoin="round"/>
<path d="M603.3,449.5L606.4,451.3L610.5,453.5L613.1,455L615.9,456.6L619.4,457.9L622.6,458.7L626.1,459.3L629.8,459.8L633.8,460.2L636.6,460.5L639.6,460.7L642.7,460.8L645.8,460.9L648.9,461L652.1,460.9L655.3,460.7L658.6,460.3L661.8,459.9L664.8,459.5L667.5,459.3L669.6,459.4L673.2,460.3L676,461.9L679.4,464.3L681.6,466.1L683.9,468L686.4,470.3L689,472.8L691.9,475.6L693.9,477.5L695.8,479.5L697.9,481.6L700.1,483.7L702.3,486L704.6,488.3L707,490.7L709.4,493.1L711.4,495L713.5,497L715.6,498.9L717.7,500.9L719.8,502.9L722,504.9L724.3,507.1L726.6,509.3L729,511.6L731.4,514.1L733.3,516.1L735.4,518.2L737.5,520.4L739.7,522.7L741.9,525L744.1,527.4L746.4,529.8L748.6,532.2L750.8,534.6L752.9,537L755,539.3L757,541.6L758.9,543.9L761,546.4L763.1,549L765.2,551.5L767.2,553.9L769.1,556.4L771,558.8L772.8,561.2L774.6,563.6L776.3,565.9L778,568.2L779.6,570.5L781.7,573.6L783.9,576.8L786.1,580L788.2,583.1L790.1,586L791.9,588.5L793.3,590.7L794.4,592.4L795.6,591.6L794.6,589.9L793.4,587.6L792,584.9L790.4,581.8L788.6,578.5L786.6,575.1L784.6,571.7L782.4,568.5L780.8,566.2L779.2,563.9L777.5,561.5L775.8,559L774,556.6L772.2,554.1L770.3,551.5L768.4,548.9L766.4,546.4L764.3,543.8L762.1,541.1L760.2,538.9L758.2,536.6L756.1,534.2L754,531.8L751.8,529.3L749.6,526.9L747.3,524.4L745.1,522L742.9,519.6L740.7,517.3L738.6,515.1L736.6,513L734.6,510.9L732.1,508.4L729.7,506.1L727.4,503.8L725.1,501.6L722.9,499.6L720.7,497.6L718.6,495.6L716.6,493.7L714.5,491.8L712.6,489.9L710.1,487.5L707.8,485.2L705.5,482.8L703.3,480.6L701.1,478.4L699,476.3L697,474.3L695.1,472.4L692.2,469.6L689.5,467L686.9,464.7L684.5,462.6L682,460.7L678.5,458.1L674.8,456.1L670.4,455L667.4,454.8L664.3,455L661.2,455.4L658,455.9L654.9,456.3L651.9,456.5L649,456.5L645.9,456.4L642.8,456.3L639.8,456.2L636.9,456L634.2,455.8L630.3,455.4L626.7,455L623.4,454.5L620.6,453.9L617.6,452.8L615,451.5L612.5,450.1L608.3,447.8L605.3,446.1Z" fill="#1b1a19" stroke="#1b1a19" stroke-width="0.6" stroke-linejoin="round"/>
<path d="M692.1,435.7L693.9,438.2L696.4,442L697.8,444L699.4,446.5L701.2,449.4L703.3,452.5L704.9,454.6L706.5,456.8L708.3,459.2L710.3,461.7L712.4,464.3L714.7,467L716.6,469L718.5,471.1L720.5,473.3L722.7,475.5L724.9,477.8L727.3,480.1L729.8,482.6L732.5,485.1L734.6,487.1L736.9,489L739.2,491.1L741.7,493.1L744.2,495.2L746.7,497.4L749.3,499.5L751.8,501.7L754.3,503.8L756.8,505.9L759.1,508.1L761.4,510.2L763.7,512.3L766,514.4L768.3,516.6L770.5,518.7L772.8,520.9L775,523L777.3,525.2L779.5,527.4L781.8,529.7L784,531.9L786.1,534L788.2,536.2L790.3,538.4L792.4,540.6L794.5,542.8L796.6,545L798.6,547.3L800.7,549.5L802.8,551.8L804.9,554L806.9,556.2L809,558.5L811.2,560.9L813.6,563.5L816,566L818.4,568.6L820.8,571.2L823.2,573.8L825.5,576.2L827.7,578.6L829.8,580.8L831.7,582.8L833.4,584.6L837.2,588.3L840.2,590.7L842.7,592.4L845.1,594.2L848.8,596.6L852.4,598.4L854.9,599.7L855.1,599.3L853.1,597.5L850.2,594.7L846.9,591.8L844.7,589.9L842.7,587.8L840.2,585.2L836.6,581.4L835,579.7L833.1,577.6L831.2,575.4L829.1,573L826.9,570.5L824.6,567.8L822.3,565.2L819.9,562.5L817.6,559.8L815.3,557.2L813,554.7L811,552.5L808.9,550.3L806.8,548L804.8,545.8L802.7,543.5L800.6,541.3L798.5,539L796.4,536.8L794.3,534.6L792.2,532.4L790.1,530.2L788,528.1L785.7,525.8L783.4,523.5L781.2,521.3L778.9,519.1L776.6,516.9L774.4,514.7L772.1,512.5L769.8,510.4L767.5,508.2L765.2,506.1L762.9,503.9L760.5,501.8L758,499.6L755.5,497.4L752.9,495.2L750.4,493L747.9,490.9L745.4,488.8L743,486.7L740.7,484.7L738.5,482.7L736.5,480.9L733.8,478.4L731.4,476L729.1,473.7L726.9,471.4L724.9,469.2L722.9,467.1L721,465L719.3,463L717.1,460.4L715.1,457.9L713.4,455.5L711.7,453.1L710.2,450.9L708.7,448.7L706.6,445.8L704.9,443L703.2,440.5L701.6,438L698.3,434.5L695.9,432.3Z" fill="#1b1a19" stroke="#1b1a19" stroke-width="0.6" stroke-linejoin="round"/>
<path d="M723.8,456.8L725.2,458.3L727,460.5L729.1,463.2L731.3,466L733.7,468.7L736,471.1L738.4,473.6L740.8,476L743.2,478.4L745.7,480.9L748.6,483.6L750.6,485.4L752.7,487.3L754.9,489.4L757.2,491.5L759.5,493.6L761.8,495.7L764.1,497.8L766.4,499.8L769,502L771.7,504.2L774.3,506.4L776.9,508.5L779.4,510.7L781.9,512.8L784.3,514.9L786.7,517L789.1,519.1L791.5,521.2L793.8,523.4L796,525.5L798.2,527.6L800.4,529.6L802.8,532L805.1,534.2L807.4,536.4L809.7,538.7L811.9,540.9L814.1,543.3L816.4,545.8L818.8,548.4L821.2,550.9L823.6,553.5L825.9,556.1L828,558.8L830.1,561.5L832.4,564.4L834.7,567.3L836.8,569.9L838.6,572.2L839.8,573.8L840.2,573.6L839.1,571.8L837.7,569.4L836,566.4L834.1,563.3L832.1,560.1L830,557.2L827.9,554.5L825.8,551.7L823.7,548.8L821.5,546L819.3,543.3L817.1,540.7L814.9,538.2L812.7,535.8L810.5,533.4L808.3,531.1L806,528.7L803.6,526.4L801.5,524.3L799.3,522.1L797.1,519.9L794.8,517.7L792.5,515.5L790.1,513.3L787.7,511.1L785.2,509L782.6,506.8L780,504.7L777.4,502.6L774.7,500.5L772.1,498.4L769.6,496.2L767.3,494.2L764.9,492.2L762.6,490.2L760.2,488.1L757.8,486.1L755.6,484.1L753.4,482.2L751.4,480.4L748.4,477.9L745.7,475.6L743.1,473.5L740.6,471.3L738,468.9L735.7,466.7L733,464.3L730.3,461.9L727.8,459.7L725.7,457.8L724.2,456.4Z" fill="#1b1a19" stroke="#1b1a19" stroke-width="0.6" stroke-linejoin="round"/>
<path d="M586.4,452.3L588.2,455.2L591.2,458.8L594,461L597,462.7L600.1,464.4L603.6,465.9L607.2,467.3L610.6,468.5L614.7,470.1L619.5,471.3L622.8,471.7L626.2,472.1L630,472.3L633.9,472.5L636.7,472.6L639.6,472.7L642.7,472.7L645.8,472.8L648.9,472.9L651.9,473L655,473.1L658.2,473.1L661.2,473.1L664.1,473.2L666.8,473.4L669.3,473.9L671.8,474.7L674,475.7L676.2,476.9L678.7,478.6L681.7,480.9L683.6,482.4L685.7,484.2L687.9,486.2L690.3,488.4L692.7,490.6L695.1,492.9L697.5,495.2L699.9,497.4L702.1,499.5L704.4,501.7L706.6,503.7L708.7,505.6L710.8,507.5L712.9,509.4L715.1,511.5L717.5,513.8L720.2,516.4L722.1,518.2L724.2,520.2L726.4,522.3L728.6,524.4L730.9,526.6L733.3,528.8L735.6,531.1L738,533.4L740.3,535.7L742.5,538.1L744.7,540.5L746.8,542.9L748.7,545.2L750.6,547.7L752.6,550.2L754.5,552.8L756.5,555.4L758.5,558.1L760.4,560.7L762.2,563.3L764,565.8L765.7,568.2L767.3,570.4L768.7,572.5L770,574.3L772.8,578.3L775,581.4L776.9,583.8L778.3,585.6L779.3,587.1L779.7,586.9L778.9,585.3L778.1,583.1L776.9,580.3L775.1,576.9L772.4,572.7L771.2,570.8L769.8,568.7L768.4,566.4L766.8,563.9L765.1,561.3L763.4,558.6L761.6,555.9L759.8,553.1L757.9,550.4L756,547.6L754.1,545L752.2,542.5L750.2,540.1L748.1,537.6L745.9,535.1L743.6,532.6L741.3,530.1L739,527.7L736.7,525.3L734.4,523L732.1,520.8L729.9,518.6L727.8,516.5L725.7,514.5L723.8,512.6L721.2,510L718.8,507.7L716.6,505.6L714.5,503.5L712.4,501.6L710.3,499.7L708.2,497.6L705.9,495.5L703.7,493.4L701.4,491.2L699,488.9L696.7,486.5L694.3,484.2L691.9,481.9L689.6,479.8L687.4,477.8L685.3,476.1L682.2,473.7L679.4,471.8L676.7,470.3L673.9,469.1L670.7,468.1L667.7,467.5L664.5,467.2L661.3,467.1L658.2,467.1L655.1,467.1L652.1,467L649,466.9L645.9,466.8L642.8,466.7L639.8,466.7L636.9,466.6L634.1,466.5L630.2,466.4L626.6,466.3L623.3,466.2L620.5,465.9L616.3,464.9L612.4,463.5L609.1,462.3L605.6,461L602.5,459.6L599.6,458.1L597.1,456.5L595.2,455L593,451.9L591.6,449.3Z" fill="#1b1a19" stroke="#1b1a19" stroke-width="0.6" stroke-linejoin="round"/>
<path d="M106.5,185.4L106.8,187.5L107.1,190.3L107.4,193.6L107.8,197.3L108.3,201.3L108.8,205.4L109.1,208L109.4,210.7L109.6,213.6L109.9,216.6L110.2,219.6L110.6,222.8L110.9,226L111.2,229.2L111.6,232.4L112,235.5L112.5,238.8L112.9,242.2L113.4,245.7L113.9,249.2L114.4,252.8L115,256.3L115.5,259.6L116,262.8L116.6,265.7L117.1,268.3L118,272.5L118.8,275.9L119.6,278.8L120.8,281.6L122.3,284.6L123.8,287.2L125.4,289.7L127.2,292.2L129.2,294.8L131.5,297.5L134.2,300.5L136,302.6L138.1,304.8L140.4,307.3L142.8,309.8L145.3,312.3L147.8,314.9L150.3,317.3L152.7,319.6L155,321.7L157.2,323.5L160.7,326.2L163.9,328.2L166.8,329.6L169.9,330.9L173.4,332.2L176.2,333.2L179.2,334.2L182.4,335.1L185.7,336.1L189,337L192.4,337.9L195.7,338.8L198.9,339.6L202.1,340.4L205.3,341.1L208.5,341.8L211.6,342.5L214.7,343.1L217.8,343.8L220.8,344.5L223.9,345.3L226.9,346.3L230,347.4L233.2,348.5L236.4,349.7L239.6,350.9L242.8,352L245.9,353.1L248.9,354L252.6,355.1L256.1,355.9L259.4,356.7L262.7,357.3L265.9,357.9L269.2,358.6L272.1,359.2L275.1,359.8L278.1,360.4L281.1,361L284.1,361.6L287.1,362.1L290,362.6L293.5,363.2L296.9,363.7L300.3,364.1L303.8,364.5L307.2,364.9L310.6,365.3L314,365.7L317.4,366L320.8,366.2L324.1,366.5L327.5,366.7L330.8,366.9L333.9,367.1L336.8,367.2L339.7,367.3L342.8,367.3L346.1,367.4L349.9,367.4L352.5,367.5L355.2,367.5L358.1,367.5L361.2,367.5L364.3,367.5L367.5,367.5L370.7,367.5L373.9,367.4L377,367.3L380.1,367.2L383.1,367.1L386.1,367L389.2,366.9L392.2,366.7L395.2,366.5L398.2,366.3L401.2,366.1L404.2,365.9L407.3,365.6L410.3,365.3L413.3,365.1L416.5,364.7L419.6,364.4L422.8,364.1L426,363.7L429.1,363.4L432.1,363L435,362.7L437.8,362.3L440.4,362L444.4,361.4L447.9,360.8L451.1,360.3L454.2,359.7L457.2,359.2L460.4,358.7L463.8,358.2L467.3,357.8L470.7,357.4L474.1,357L477.6,356.6L481,356.2L484.4,355.9L487.8,355.6L491.1,355.3L494.5,355.1L497.8,354.9L501.1,354.7L504.5,354.7L508.1,354.7L511.6,354.8L515.1,355L518.2,355.1L520.9,355.2L524.7,355.4L527,355.7L529.3,356.3L532.3,357.2L535.4,358.5L538.5,360.1L540.8,361.5L543.2,363.1L545.6,364.9L548,366.9L550.5,369.1L553,371.6L555.5,374.2L557.9,376.7L560.1,379.1L562.1,381.4L563.9,383.7L565.7,386.1L567.5,388.5L569.1,391L570.7,393.5L572.2,395.9L574.2,399.3L576,402.7L577.7,405.9L579.9,409.4L581.5,412.6L582.5,415.2L583.4,418L583.8,420.5L583.7,423.1L583.3,425.7L582.5,428L580.8,431.2L578.6,433.6L576,435.1L572.1,436.1L569.9,436.2L567.1,436.1L564.1,435.9L561.3,435.5L558,434.9L554.8,434.1L551.5,433.2L548.1,432.3L544.7,431.4L541.1,430.5L537.5,429.8L534.1,429.2L530.8,428.6L527.5,427.7L524.2,426.8L520.9,425.8L518.2,425.1L515.6,424.5L511.8,423.6L509.1,423L505.9,422.4L502.4,421.6L498.8,420.9L495.1,420.1L491.6,419.5L488.2,418.8L484.8,418.3L481.4,417.7L478,417.2L474.5,416.7L471.1,416.3L467.6,416L464.1,415.7L460.7,415.5L457.2,415.3L453.8,415.2L450.4,415.1L446.9,415L443.5,415L440,415L436.6,415L433.2,415.1L429.9,415.2L426.7,415.3L423.5,415.4L420.5,415.6L417.4,415.8L414.2,416L411,416.3L407.7,416.6L404.3,417L400.8,417.4L397.4,417.9L393.9,418.4L390.5,418.9L387,419.5L383.6,420.1L380.2,420.8L376.8,421.5L373.4,422.2L369.9,423L367,423.7L364,424.5L361.1,425.3L358.1,426.1L355.2,426.9L352.3,427.8L349.4,428.6L346.5,429.5L343.8,430.3L341.1,431.1L338.4,431.9L335.5,432.8L332.4,433.7L329,434.7L326.4,435.5L323.6,436.3L320.7,437.2L317.7,438.1L314.6,439L311.5,439.9L308.4,440.8L305.3,441.6L302.2,442.4L299.2,443.1L296.2,443.7L293.2,444.3L290,444.9L286.9,445.5L283.8,446L280.7,446.4L277.7,446.8L274.9,447.2L272.2,447.5L269.7,447.7L266.1,448L262.9,448L260,447.9L257.3,447.8L254.4,447.5L251.3,447.2L248.1,446.9L244.9,446.5L241.6,446.1L238.3,445.5L235.1,444.9L231.8,444.2L229,443.5L226,442.6L222.9,441.6L219.9,440.6L217,439.5L214.4,438.5L212.1,437.7L208,435.8L204.9,434.1L201.7,432.3L198.5,430.8L195.6,429.5L191.6,427.6L189.3,426.4L186.7,425.1L183.8,423.7L180.7,422.2L177.6,420.7L174.4,419.3L171.4,418L168.5,416.8L165.4,415.6L162.3,414.4L159.3,413.3L156.3,412.3L153.4,411.5L150.7,410.9L146.6,410.3L142.9,410.1L139.1,410.7L135.4,412.1L132.1,414L128.9,416.5L125.7,419.3L122.9,422.4L120.7,425.7L119.3,429.1L118.4,432.6L118.2,436.1L118.3,439.6L118.8,443.2L119.6,446.4L120.8,449.5L122.1,452.7L123.6,455.7L125.2,458.8L126.7,461.8L128.4,464.8L130.2,467.7L132.1,470.5L133.8,473.2L135.3,475.9L136.5,478.8L137.3,481.4L137.9,484.4L138.5,487.6L138.9,490.9L139.4,494.3L139.8,497.6L140.3,500.7L141.1,504.5L141.8,508.1L142.5,511.5L143.2,514.8L143.8,518.2L144.5,521.7L145.3,525.2L146,528.5L146.5,531.8L146.8,535.1L146.7,538L146.5,541L146.2,544.2L145.7,547.5L145.3,551L144.8,554.5L144.3,557.6L143.7,560.8L143.1,564.2L142.4,567.7L141.9,571.2L141.4,574.6L141.3,578L141.3,582.2L141.7,586.3L142.3,590.2L143.2,593.8L144.3,597.1L145.9,600.8L148,604.3L150.5,607.2L153.9,609.5L158.6,610.5L163.4,609.5L167.8,607.3L170.9,604.2L173.4,600.5L175.5,597L176.9,594.8L172.1,591.2L170.3,593.4L167.8,596.3L165.2,599.1L163.2,600.7L160.9,601.8L158.7,602.1L157.1,601.7L156.2,601L154.6,599.3L153.1,597L151.7,594.1L150.8,591.5L150,588.5L149.3,585.3L148.9,581.7L148.7,578L148.9,575.3L149.3,572.3L149.8,569L150.4,565.6L151.1,562.2L151.7,558.8L152.2,555.5L152.7,552L153.2,548.5L153.6,545.1L154,541.7L154.2,538.3L154.2,534.9L154,530.9L153.4,527.2L152.6,523.6L151.9,520.2L151.2,516.8L150.5,513.4L149.8,510L149.1,506.6L148.4,503.1L147.7,499.3L147.2,496.4L146.8,493.3L146.4,489.9L145.9,486.5L145.3,483L144.5,479.6L143.5,476.2L142,472.7L140.3,469.4L138.4,466.4L136.5,463.6L134.8,460.9L133.3,458.2L131.8,455.4L130.3,452.4L128.9,449.5L127.7,446.8L126.8,444.2L126.2,441.8L125.8,438.9L125.6,436.2L125.8,433.7L126.4,431.4L127.3,429.3L128.8,427.1L131,424.6L133.6,422.3L136.3,420.3L138.6,418.9L141.1,417.9L143.2,417.6L145.9,417.8L149.3,418.3L151.6,418.8L154.1,419.5L156.9,420.4L159.8,421.4L162.7,422.5L165.7,423.7L168.6,424.8L171.4,426L174.4,427.4L177.5,428.9L180.5,430.3L183.4,431.8L186,433.1L188.4,434.2L192.5,436.1L195.4,437.5L198.3,438.9L201.4,440.5L204.8,442.3L209.3,444.3L211.8,445.3L214.6,446.3L217.6,447.3L220.7,448.3L223.9,449.3L227.1,450.2L230.2,451L233.7,451.8L237.1,452.4L240.6,453L244,453.5L247.4,453.9L250.7,454.2L253.8,454.5L256.7,454.7L259.7,454.9L262.9,455L266.4,454.9L270.3,454.7L272.9,454.4L275.7,454.1L278.6,453.8L281.7,453.3L284.9,452.9L288,452.4L291.3,451.8L294.5,451.2L297.7,450.6L300.8,449.9L303.9,449.2L307,448.4L310.2,447.5L313.4,446.6L316.6,445.6L319.7,444.7L322.7,443.8L325.6,442.9L328.4,442L331,441.3L334.4,440.3L337.5,439.3L340.4,438.4L343.1,437.6L345.8,436.8L348.4,436L351.2,435.2L354.2,434.3L357.1,433.5L360,432.7L362.9,431.8L365.7,431.1L368.6,430.3L371.5,429.6L374.8,428.8L378.2,428.1L381.5,427.4L384.9,426.8L388.2,426.2L391.5,425.7L394.9,425.1L398.3,424.6L401.7,424.2L405,423.8L408.4,423.4L411.6,423.1L414.8,422.8L417.8,422.6L420.8,422.4L423.9,422.2L426.9,422.1L430.1,422L433.4,421.9L436.7,421.8L440.1,421.8L443.5,421.8L446.8,421.8L450.2,421.9L453.6,422L456.9,422.1L460.3,422.3L463.7,422.5L467,422.8L470.3,423.1L473.7,423.5L477,423.9L480.3,424.4L483.7,425L487,425.5L490.4,426.1L493.8,426.8L497.4,427.5L501,428.3L504.4,429.1L507.6,429.8L510.2,430.4L514,431.2L516.5,431.9L519.1,432.6L522.3,433.5L525.7,434.5L529.2,435.4L532.8,436.2L536.2,436.8L539.5,437.5L542.8,438.4L546.1,439.4L549.5,440.4L552.8,441.3L556.3,442.3L560.1,443.1L563.3,443.4L566.7,443.7L570.1,443.8L573.5,443.5L578.7,442.2L583.4,439.6L587,435.6L589.5,431L590.6,427.5L591.3,423.8L591.4,420.1L590.8,416.3L589.7,412.7L588.5,409.4L586.5,405.7L584.3,402.1L582.7,399.1L580.8,395.6L578.8,392.1L577.2,389.4L575.5,386.8L573.7,384.2L571.9,381.5L569.9,379L567.9,376.5L565.8,374L563.5,371.5L561,368.9L558.4,366.2L555.7,363.6L553,361.1L550.3,358.9L547.6,356.9L544.9,355.1L542.1,353.5L538.4,351.7L534.7,350.3L531.1,349.3L528,348.8L525,348.7L521.1,348.6L518.4,348.5L515.2,348.5L511.7,348.5L508.1,348.5L504.4,348.6L500.9,348.7L497.5,348.8L494.1,349L490.7,349.2L487.2,349.5L483.8,349.8L480.4,350.2L476.9,350.5L473.5,350.9L470,351.3L466.5,351.7L463,352.2L459.6,352.7L456.3,353.2L453.1,353.7L450,354.3L446.9,354.9L443.4,355.5L439.6,356L437,356.4L434.3,356.8L431.4,357.1L428.4,357.5L425.3,357.9L422.1,358.3L419,358.7L415.9,359L412.8,359.4L409.7,359.7L406.7,359.9L403.8,360.2L400.8,360.5L397.8,360.7L394.8,360.9L391.8,361.1L388.8,361.3L385.9,361.5L382.9,361.6L379.9,361.8L376.9,361.8L373.8,361.8L370.6,361.8L367.5,361.8L364.3,361.7L361.2,361.6L358.2,361.6L355.3,361.5L352.6,361.4L350.1,361.4L346.3,361.3L343,361.1L340,360.9L337.2,360.7L334.3,360.5L331.2,360.3L328,360.1L324.7,359.8L321.4,359.4L318.1,359.1L314.7,358.7L311.4,358.3L308.1,357.8L304.8,357.3L301.4,356.8L298.1,356.2L294.7,355.6L291.4,355L288.5,354.4L285.5,353.9L282.6,353.3L279.6,352.7L276.7,352L273.7,351.4L270.8,350.8L267.5,350.1L264.3,349.5L261.1,348.8L257.9,348.1L254.6,347.3L251.1,346.4L248.4,345.5L245.4,344.5L242.4,343.4L239.2,342.2L236,341L232.7,339.8L229.4,338.7L226.1,337.7L222.9,336.8L219.7,335.9L216.5,335.1L213.4,334.4L210.3,333.7L207.2,332.9L204.1,332.2L201.1,331.4L197.9,330.5L194.7,329.6L191.4,328.7L188.1,327.7L184.9,326.7L181.9,325.7L179.1,324.7L176.6,323.8L173.1,322.5L170.5,321.4L168.3,320.3L165.9,318.9L162.8,316.5L161,314.9L158.9,313L156.6,310.8L154.2,308.5L151.7,306L149.3,303.5L146.9,301.1L144.7,298.7L142.6,296.5L140.8,294.5L138.2,291.6L136,289.1L134.1,286.8L132.5,284.7L131,282.7L129.7,280.4L128.4,278L127.4,275.9L126.6,273.6L125.8,270.7L124.9,266.7L124.4,264.2L123.9,261.4L123.4,258.3L122.9,255L122.4,251.6L121.9,248.1L121.4,244.6L120.9,241.1L120.4,237.7L120,234.5L119.5,231.3L119.1,228.2L118.7,225L118.3,221.9L117.9,218.8L117.6,215.7L117.2,212.8L116.9,209.9L116.5,207.2L116.2,204.6L115.7,200.4L115.2,196.4L114.6,192.7L114.1,189.4L113.8,186.6L113.5,184.6Z" fill="#1b1a19" stroke="#1b1a19" stroke-width="0.6" stroke-linejoin="round"/>
<path d="M211.8,2.6L212.1,5.5L212.5,9.9L213.3,14.5L214.2,17.6L215,20.6L215.9,24.2L217.1,28.7L217.8,31.1L218.4,33.7L219.1,36.4L219.8,39.3L220.5,42.4L221.3,45.7L222.1,49.2L223,52.9L223.9,56.8L224.6,59.2L225.2,61.8L225.8,64.5L226.4,67.2L227,70.1L227.7,73L228.3,76L229,79L229.6,82.1L230.3,85.2L231,88.3L231.7,91.5L232.4,94.6L233.2,97.8L233.9,101L234.6,103.8L235.3,106.7L236.1,109.6L236.8,112.6L237.6,115.7L238.4,118.8L239.1,121.9L239.9,125L240.7,128.1L241.5,131.1L242.2,134.2L242.9,137.1L243.7,140.1L244.3,142.9L245,145.7L245.6,148.3L246.2,150.9L247,154.6L247.9,158.1L248.6,161.4L249.4,164.6L250,167.6L250.7,170.5L251.3,173.5L251.9,176.4L252.4,179.3L253,182.4L253.4,185.5L253.9,188.5L254.3,191.5L254.7,194.5L255,197.6L255.4,200.6L255.7,203.7L256,206.7L256.3,209.8L256.5,212.9L256.7,216L256.9,219L257,222.1L257.1,225.2L257.1,228.3L257.2,231.5L257.2,234.6L257.1,237.8L257.1,240.9L257,244.1L256.8,247.2L256.7,250.4L256.5,253.5L256.3,256.6L256,259.7L255.7,262.8L255.3,266L254.9,269.3L254.4,272.7L253.9,276.1L253.3,279.4L252.8,282.6L252.3,285.7L251.7,288.7L251.3,291.6L250.9,294.2L250.5,296.5L249.9,300.9L249.2,304.2L248.8,306.9L248.6,309.7L249,312.6L249.7,316.2L250.8,319.9L253,323.6L256.4,326.8L259.2,328.7L262.3,330.2L265.6,331.6L269.1,332.9L272.6,334.1L276,335.3L279.1,336.4L282.1,337.5L285.1,338.4L288.1,339.3L291,340.2L294,341L296.9,341.7L299.9,342.4L303.2,343.2L306.4,343.8L309.7,344.3L313,344.8L316.6,345.3L320.6,345.7L323.4,346L326.5,346.3L329.7,346.6L333,346.8L336.3,347.1L339.7,347.3L343.1,347.5L346.5,347.7L349.8,347.8L352.8,348L355.7,348.2L358.7,348.4L361.8,348.6L364.8,348.7L367.8,348.9L370.9,349L373.9,349.1L377,349.2L380,349.2L383,349.2L386.1,349.1L389.1,349L392.1,348.9L395.2,348.8L398.2,348.7L401.2,348.5L404.3,348.3L407.3,348.1L410.3,347.9L413.4,347.6L416.5,347.3L419.7,347L422.9,346.7L426,346.3L429.1,345.9L432.2,345.5L435.1,345.2L437.9,344.8L440.5,344.5L444.5,343.9L448.1,343.3L451.4,342.6L454.5,342L457.6,341.5L460.8,341L464.2,340.5L467.6,340L470.9,339.6L474.3,339.2L477.7,338.8L481.1,338.4L484.5,338.1L487.9,337.7L491.3,337.3L494.6,337L497.8,336.8L501,336.7L504.2,336.8L507.5,337L510.8,337.3L514,337.7L517,338L519.7,338.3L523.6,338.6L526.5,338.9L529.4,339.3L532.7,339.9L536,340.6L539.1,341.6L542.2,343L545.5,344.8L549,346.8L552.4,348.7L555.7,350.6L559,352.7L561.5,354.4L563.9,356.2L566.4,358.1L568.9,360.2L571.4,362.4L574,364.7L576.5,367.1L578.8,369.5L580.9,372L583,374.4L584.9,376.9L586.6,379.4L588.8,382.6L590.7,385.9L592.6,389.2L594.4,392.7L596.1,396.1L597.8,399.7L599,402.5L600.1,405.4L601.2,408.2L602.1,410.9L603.2,414.3L603.9,417.5L604.4,420.6L604.6,423.7L604.4,426.9L604,429.9L603.2,432.8L602.1,435.6L600.8,437.9L598.4,440.8L595.4,443.2L593.1,444.6L590.6,445.9L588.2,446.8L584.6,447.8L580.7,448.3L577.7,448.4L574.3,448.4L571,448.3L567.7,448.1L564.4,447.8L561.1,447.3L557.9,446.8L554.5,446.1L551.2,445.4L547.8,444.5L544.4,443.6L540.7,442.9L537,442.7L533.5,442.6L530.4,442.3L527.3,441.7L524.1,440.8L520.9,439.9L518.4,439.1L515.9,438.3L512.1,437.3L509.3,436.7L506.1,435.9L502.6,435.2L498.9,434.4L495.1,433.6L491.6,433L488.2,432.4L484.8,431.8L481.3,431.2L477.9,430.7L474.5,430.3L471,429.9L467.6,429.6L464.1,429.3L460.7,429.1L457.2,429L453.8,428.9L450.3,428.8L446.9,428.8L443.4,428.8L439.9,428.9L436.5,429L433.2,429.2L429.9,429.3L426.7,429.4L423.6,429.6L420.5,429.7L417.4,429.9L414.2,430.1L411,430.4L407.6,430.8L404.2,431.2L400.8,431.7L397.3,432.3L393.8,432.8L390.4,433.5L387,434.1L383.6,434.8L380.1,435.6L376.7,436.4L373.3,437.2L369.8,438.1L366.9,438.9L363.9,439.8L361,440.7L358,441.6L355.1,442.6L352.2,443.6L349.2,444.6L346.4,445.6L343.6,446.6L340.9,447.7L338.2,448.7L335.3,449.8L332.3,451L328.9,452.2L326.3,453.1L323.5,454.2L320.6,455.2L317.6,456.4L314.5,457.5L311.4,458.6L308.3,459.7L305.2,460.7L302.2,461.6L299.2,462.5L296.2,463.2L293.2,464L290.3,464.7L287.3,465.4L284.3,466L281.4,466.6L278.5,467.1L275.6,467.5L272.7,467.8L269.9,468L266.7,468.1L263.4,468.1L260.1,468L256.8,467.7L253.5,467.5L250.3,467.1L247.2,466.7L244.2,466.3L241.5,465.9L237.7,465.2L234.2,464.5L231.1,463.8L228,462.9L224.8,462L221.5,461L218.6,460.1L215.6,459.3L212.5,458.4L209.4,457.5L206.5,456.6L203.6,455.7L201,454.8L197.6,453.5L194.1,452.4L190.9,451.4L188.3,450.6L186.4,449.9L186.2,450.3L188,451.3L190.4,452.7L193.3,454.4L196.5,456.1L200,457.6L202.5,458.6L205.3,459.8L208.1,461.1L211.1,462.4L214.1,463.6L217.1,464.8L220.1,465.8L223.3,466.8L226.5,467.8L229.7,468.8L233,469.8L236.6,470.6L240.5,471.3L243.4,471.8L246.4,472.2L249.6,472.7L252.9,473.1L256.3,473.5L259.8,473.8L263.2,474L266.7,474.1L270.1,474L273.2,473.8L276.3,473.5L279.4,473.1L282.4,472.6L285.5,472.1L288.6,471.4L291.7,470.8L294.7,470.1L297.8,469.3L300.8,468.5L303.9,467.7L307.1,466.7L310.3,465.7L313.5,464.7L316.7,463.6L319.8,462.5L322.8,461.4L325.8,460.3L328.5,459.3L331.1,458.4L334.5,457.2L337.7,456L340.6,454.9L343.3,453.8L345.9,452.8L348.6,451.8L351.4,450.8L354.3,449.8L357.2,448.9L360.1,447.9L362.9,447L365.8,446.1L368.7,445.3L371.6,444.5L374.9,443.6L378.2,442.8L381.6,442L384.9,441.3L388.3,440.6L391.6,439.9L395,439.3L398.4,438.8L401.7,438.2L405.1,437.8L408.4,437.3L411.6,437L414.8,436.7L417.8,436.5L420.8,436.3L423.9,436.1L426.9,436L430.1,435.9L433.4,435.8L436.8,435.6L440.1,435.5L443.5,435.4L446.9,435.4L450.3,435.4L453.6,435.5L457,435.6L460.3,435.7L463.7,435.9L467,436.2L470.4,436.5L473.7,436.9L477,437.3L480.4,437.8L483.7,438.3L487.1,438.9L490.4,439.4L493.9,440.1L497.5,440.8L501.2,441.6L504.7,442.4L507.9,443.1L510.5,443.7L514.1,444.6L516.5,445.4L519.1,446.1L522.4,447L525.9,447.9L529.6,448.7L533.3,448.9L536.7,448.9L539.9,449.1L543.1,449.6L546.4,450.4L549.8,451.2L553.3,452L556.8,452.7L560.3,453.3L563.7,453.7L567.2,454.1L570.6,454.3L574.2,454.4L577.8,454.4L581.3,454.3L585.7,453.8L590,452.8L593.1,451.5L596.2,450L599,448.2L602.7,445.1L605.8,441.3L607.5,438.1L608.9,434.7L609.8,431.1L610.4,427.5L610.6,423.7L610.4,420L609.8,416.3L609,412.7L607.9,409.1L606.9,406.2L605.7,403.2L604.5,400.2L603.2,397.3L601.5,393.6L599.7,389.9L597.8,386.4L595.9,382.9L593.9,379.5L591.6,376L589.7,373.4L587.7,370.7L585.5,368.1L583.2,365.5L580.7,362.9L578.1,360.4L575.4,357.9L572.7,355.6L570.2,353.5L567.6,351.4L565,349.5L562.4,347.7L558.9,345.4L555.4,343.4L552,341.4L548.7,339.4L545.2,337.3L541.5,335.6L537.8,334.3L534.1,333.4L530.6,332.7L527.4,332.1L524.3,331.7L520.3,331.3L517.8,331L514.8,330.7L511.5,330.3L508,330L504.5,329.7L501,329.7L497.5,329.7L494.1,330L490.6,330.3L487.1,330.6L483.7,331L480.3,331.4L476.9,331.7L473.5,332.1L470.1,332.5L466.6,332.9L463.2,333.4L459.8,333.8L456.4,334.3L453.3,334.8L450.1,335.4L446.9,335.9L443.4,336.4L439.5,336.9L436.9,337.3L434.1,337.6L431.2,338L428.2,338.3L425.2,338.6L422,339L418.9,339.3L415.8,339.6L412.7,339.9L409.7,340.1L406.7,340.3L403.7,340.5L400.8,340.7L397.8,340.9L394.8,341L391.9,341.2L388.9,341.3L385.9,341.3L383,341.4L380,341.4L377,341.4L374.1,341.4L371.1,341.3L368.1,341.3L365.1,341.2L362.1,341.1L359.1,341L356.1,340.9L353.2,340.7L350.2,340.6L346.9,340.4L343.5,340.2L340.2,339.9L336.8,339.7L333.5,339.4L330.3,339.2L327.2,338.9L324.2,338.6L321.4,338.3L317.6,337.8L314.2,337.2L311,336.7L308,336L304.9,335.3L301.7,334.6L298.9,333.9L296.1,333.1L293.3,332.3L290.5,331.4L287.7,330.4L284.8,329.4L281.9,328.4L278.8,327.3L275.4,326.1L272,324.9L268.8,323.7L265.9,322.4L263.4,321.2L261.6,320.2L259.3,318.2L257.8,316.3L256.8,314.1L256,311.4L255.8,309.4L255.9,307.7L256.2,305.3L256.8,302L257.5,297.5L257.8,295.2L258.2,292.7L258.7,289.9L259.2,286.9L259.7,283.8L260.2,280.5L260.8,277.2L261.3,273.7L261.8,270.3L262.3,266.9L262.7,263.6L263,260.3L263.2,257.1L263.5,253.9L263.7,250.7L263.8,247.5L264,244.3L264.1,241.1L264.1,237.9L264.2,234.7L264.2,231.4L264.1,228.2L264.1,225.1L264,221.9L263.9,218.7L263.7,215.6L263.5,212.4L263.3,209.2L263.1,206.1L262.8,203L262.5,199.8L262.1,196.7L261.8,193.6L261.4,190.6L261,187.5L260.6,184.5L260.1,181.2L259.6,178.1L259.1,175.1L258.6,172.1L258,169.1L257.4,166L256.8,162.9L256.1,159.7L255.4,156.4L254.6,152.9L253.8,149.1L253.2,146.6L252.6,143.9L251.9,141.1L251.3,138.2L250.6,135.3L249.8,132.3L249.1,129.2L248.4,126.2L247.6,123.1L246.8,120L246.1,116.8L245.3,113.8L244.6,110.7L243.8,107.7L243.1,104.7L242.4,101.9L241.7,99L240.9,95.9L240.1,92.8L239.3,89.6L238.5,86.5L237.6,83.4L236.8,80.3L236,77.3L235.2,74.3L234.4,71.3L233.6,68.5L232.8,65.6L232.1,62.9L231.4,60.2L230.7,57.7L230.1,55.2L229,51.3L228,47.7L227,44.2L226.1,40.9L225.1,37.9L224.2,35L223.4,32.3L222.6,29.7L221.9,27.3L220.4,22.7L219,19.3L217.7,16.4L216.7,13.5L215.1,9.2L213.3,5.2L212.2,2.4Z" fill="#1b1a19" stroke="#1b1a19" stroke-width="0.6" stroke-linejoin="round"/>
<path d="M185.9,307.7L187.7,308.2L190,309L192.8,309.9L195.8,310.9L199.1,312L202.4,313.1L205.8,314.1L209,315.1L212,315.9L215.2,316.8L218.4,317.8L221.6,318.9L224.7,320L227.9,321.1L230.9,322.1L233.9,323.1L236.7,323.9L240.3,324.9L243.7,325.8L246.9,326.7L250,327.6L253,328.5L256.1,329.4L259.3,330.3L262.8,331.3L266.2,332.4L269.3,333.4L272,334.2L274,334.8L276,328.2L274.1,327.6L271.4,326.7L268.3,325.7L264.8,324.7L261.3,323.6L257.9,322.6L254.8,321.8L251.6,321.1L248.5,320.4L245.2,319.8L241.8,319L238.3,318.1L235.4,317.4L232.4,316.6L229.3,315.9L226.1,315.2L222.9,314.4L219.6,313.7L216.3,312.9L213,312.1L210,311.3L206.6,310.7L203.2,310.1L199.7,309.5L196.3,309L193.1,308.5L190.2,308L187.9,307.6L186.1,307.3Z" fill="#1b1a19" stroke="#1b1a19" stroke-width="0.6" stroke-linejoin="round"/>
<path d="M250.8,6.4L251.8,9.6L253.2,14.5L253.7,17.1L254,20.1L254.4,23.9L255.4,28.6L255.9,31L256.4,33.6L256.9,36.4L257.5,39.4L258,42.5L258.7,45.9L259.6,49.5L260.6,53.3L261.8,57.2L262.7,59.7L263.6,62.4L264.6,65.1L265.7,67.9L266.7,70.8L267.8,73.8L269,76.9L270.1,79.9L271.3,83L272.5,86.1L273.6,89.2L274.8,92.3L275.9,95.4L277,98.4L278.1,101.4L279.1,104.4L280.2,107.4L281.2,110.6L282.3,113.8L283.3,117L284.4,120.2L285.4,123.4L286.4,126.6L287.5,129.7L288.4,132.7L289.4,135.7L290.4,138.6L291.3,141.3L292.2,144L293,146.4L294.6,150.6L296,154.4L297.3,157.8L298.6,161L299.8,163.9L300.9,166.6L302.1,169.2L303.2,171.7L304.8,175.4L306.4,178.6L307.8,181.5L309.3,184.2L310.8,187L312.4,189.9L314,192.8L315.7,195.7L317.4,198.6L319.4,201.8L320.9,204.1L322.5,206.6L324.1,209.2L325.9,211.8L327.7,214.4L329.6,217.1L331.7,219.7L333.8,222.3L336,224.9L338.4,227.5L340.8,230L343.2,232.5L345.7,234.9L348.1,237.2L351,239.7L353.8,242L356.7,244.2L359.6,246.3L362.5,248.2L365.3,250L368.2,251.8L371,253.4L373.8,254.8L376.6,256.2L379.4,257.4L382.2,258.6L385.6,259.9L389,261L392.4,261.9L395.7,262.8L399,263.6L402.3,264.3L405.6,265L408.9,265.5L412.3,266L415.8,266.5L418.7,266.8L421.6,267.1L424.7,267.4L427.8,267.6L431.2,267.7L435,267.8L437.7,267.8L440.7,267.7L443.9,267.6L447.1,267.5L450.4,267.4L453.6,267.2L456.7,267.1L459.6,266.9L462.2,266.8L465.6,266.7L468.5,266.5L471.2,266.4L474,266.2L477,266L480.4,265.7L483.3,265.4L486.4,265.1L489.6,264.7L493,264.2L496.4,263.8L499.9,263.3L503.3,262.7L506.7,262.1L510,261.5L513.3,260.9L516.6,260.2L519.9,259.4L523.2,258.7L526.4,257.9L529.7,257L533,256.2L535.9,255.4L538.8,254.6L541.8,253.7L544.7,252.9L547.6,252L550.5,251.1L553.4,250.2L556.3,249.3L559.2,248.3L562.1,247.4L565,246.4L567.9,245.4L570.8,244.4L573.7,243.4L576.7,242.4L579.6,241.3L582.6,240.1L585.5,238.9L588.4,237.6L591.4,236.3L594.3,235L597.2,233.6L600.2,232.2L603.1,230.7L606,229.2L609,227.6L611.9,226L614.6,224.4L617.4,222.8L620.3,221L623.1,219.3L625.9,217.5L628.7,215.7L631.3,213.9L633.8,212.3L636.1,210.7L638.3,209.1L641.8,206.5L644.7,204.1L647,201.9L649.1,199.9L651.4,197.9L654,195.8L656.5,193.6L659,191.5L661.5,189.5L664,187.7L666.4,186L668.9,184.4L671.4,182.9L673.9,181.5L676.4,180.1L679.6,178.4L682.7,176.7L685.8,175.1L689,173.7L692.1,172.4L695.2,171.1L698.3,169.9L701.5,168.9L704.6,168.1L707.5,167.2L710.6,166.4L714.2,165.7L717.2,165.2L720.7,164.5L724.4,163.8L727.9,163.1L730.9,162.6L733,162.2L733,161.8L730.8,161.9L727.8,162L724.2,162.2L720.5,162.3L716.9,162.6L713.8,162.9L710.1,163.4L706.8,163.9L703.7,164.3L700.5,165.1L697.2,165.9L693.8,166.8L690.4,167.7L687,168.9L683.7,170.2L680.3,171.5L676.9,172.9L673.6,174.5L670.9,175.8L668.2,177.2L665.5,178.6L662.8,180.2L660,181.9L657.3,183.8L654.6,185.8L651.9,187.9L649.2,190L646.6,192.1L644.1,194.2L641.8,196.2L639.6,198.2L637,200.4L633.7,202.9L631.7,204.2L629.4,205.8L627,207.4L624.4,209.2L621.7,210.9L618.9,212.7L616.2,214.4L613.4,216.1L610.7,217.7L608.1,219.2L605.2,220.8L602.4,222.3L599.6,223.8L596.7,225.2L593.9,226.6L591,227.9L588.2,229.2L585.3,230.5L582.5,231.7L579.7,232.9L576.8,234L574,235L571.1,236.1L568.3,237.1L565.4,238L562.6,239L559.7,239.9L556.8,240.9L553.9,241.8L551,242.8L548.2,243.7L545.3,244.5L542.4,245.4L539.6,246.3L536.7,247.1L533.9,247.9L531,248.6L527.8,249.5L524.6,250.3L521.3,251.1L518.1,251.8L514.9,252.6L511.7,253.2L508.5,253.9L505.3,254.5L502.1,255L498.8,255.5L495.4,255.9L492,256.3L488.7,256.6L485.5,257L482.5,257.2L479.6,257.5L476.3,257.8L473.5,257.9L470.9,258L468.2,258L465.3,258.1L461.8,258.2L459.1,258.3L456.2,258.5L453.2,258.6L450,258.8L446.7,258.9L443.6,259L440.5,259.1L437.6,259.2L435,259.2L431.5,259.1L428.3,259L425.3,258.8L422.5,258.5L419.6,258.3L416.8,257.9L413.5,257.5L410.3,257L407.2,256.5L404.1,255.9L401,255.2L397.8,254.4L394.6,253.6L391.5,252.7L388.5,251.7L385.4,250.6L382.8,249.5L380.2,248.4L377.7,247.1L375.1,245.8L372.5,244.3L369.9,242.8L367.2,241L364.5,239.2L361.8,237.3L359.2,235.3L356.5,233.1L353.9,230.8L351.6,228.7L349.3,226.5L347,224.1L344.7,221.7L342.5,219.2L340.4,216.7L338.3,214.3L336.5,211.9L334.7,209.5L332.9,207L331.3,204.5L329.6,202L328.1,199.6L326.6,197.2L324.7,194.2L322.9,191.3L321.3,188.6L319.8,185.8L318.2,183L316.7,180.2L315.3,177.6L313.9,174.9L312.5,171.9L310.8,168.3L309.8,165.8L308.7,163.3L307.5,160.6L306.4,157.8L305.1,154.7L303.8,151.4L302.4,147.7L301,143.6L300.1,141.2L299.2,138.6L298.3,135.9L297.4,133.1L296.4,130.1L295.4,127.1L294.4,124L293.4,120.8L292.3,117.6L291.3,114.4L290.2,111.1L289.1,107.9L288,104.8L287,101.7L285.9,98.6L284.8,95.6L283.7,92.5L282.5,89.4L281.3,86.3L280.1,83.2L278.9,80.1L277.6,77L276.4,74L275.2,71L274.1,68L273,65.2L271.9,62.4L270.9,59.7L270,57.2L269.2,54.8L267.9,51L266.6,47.4L265.5,44L264.4,40.8L263.4,37.9L262.5,35L261.6,32.3L260.9,29.8L260.2,27.4L259,22.9L257.9,19.3L256.9,16.4L256,13.5L253.4,8.9L251.2,6.2Z" fill="#1b1a19" stroke="#1b1a19" stroke-width="0.6" stroke-linejoin="round"/>
<path d="M333,457C333.3,458.5 333.4,463.3 334.6,466C335.8,468.7 337.6,471.2 340.2,473.1C342.8,475 345.2,476.6 350.3,477.4C355.4,478.2 363.9,478.2 370.7,477.7C377.5,477.2 384.2,475 391,474.6C397.8,474.2 404.8,474.5 411.3,475.1C417.8,475.7 423.6,477.4 430,478.2C436.4,478.9 443.3,479.3 450,479.6C456.7,479.9 461.7,480.1 470,479.8C478.3,479.5 491.7,478.9 500,478C508.3,477.1 513.3,475.8 520,474.3C526.7,472.8 534.7,470.9 540.3,469C545.9,467.1 550.5,465 553.5,463C556.5,461 557.7,458.7 558.6,457C559.5,455.3 558.9,453.5 559,452.8" fill="none" stroke="#1b1a19" stroke-width="5.8" stroke-linecap="round" stroke-linejoin="round"/>
<path d="M726.9,274.2L728.8,274.4L731.2,274.6L734.2,274.8L737.6,275L741.4,275.2L745.6,275.3L750,275.3L752.6,275.2L755.3,275.2L758.3,275.1L761.3,274.9L764.5,274.8L767.7,274.6L771,274.5L774.3,274.3L777.6,274.1L780.9,273.9L784.1,273.7L787.2,273.5L790.2,273.3L793.5,273.1L796.6,272.9L799.6,272.7L802.6,272.5L805.6,272.3L808.5,272.1L811.6,271.8L814.7,271.5L818,271.1L821.5,270.7L825.3,270.3L828.1,269.9L831,269.5L834.1,269L837.4,268.5L840.7,268L844.1,267.4L847.5,266.8L851,266.2L854.4,265.6L857.8,265L861.1,264.5L864.2,263.9L867.3,263.4L870.2,262.9L872.9,262.4L875.3,262L879.7,261.2L883.6,260.4L887,259.7L890.1,259L892.9,258.3L895.4,257.7L897.9,257.2L900.2,256.7L904.6,255.8L908.2,254.7L911,253.8L913,253.2L913,252.8L910.9,253L907.9,253.2L904.2,253.6L899.8,254.3L897.4,254.7L894.9,255.1L892.3,255.4L889.5,255.8L886.4,256.2L883,256.7L879.1,257.3L874.7,258L872.2,258.4L869.5,258.9L866.6,259.4L863.6,259.9L860.4,260.4L857.1,260.9L853.7,261.4L850.3,262L846.8,262.5L843.4,263L840,263.5L836.7,264L833.5,264.5L830.4,265L827.4,265.4L824.7,265.7L821,266.2L817.5,266.6L814.3,266.9L811.2,267.2L808.2,267.5L805.2,267.7L802.3,267.9L799.4,268.1L796.3,268.3L793.2,268.5L789.8,268.7L786.9,268.9L783.8,269.1L780.6,269.3L777.4,269.5L774.1,269.7L770.8,269.9L767.5,270L764.3,270.2L761.1,270.3L758.1,270.5L755.2,270.6L752.5,270.6L750,270.7L745.6,270.7L741.6,270.6L737.9,270.5L734.5,270.3L731.6,270L729.1,269.9L727.1,269.8Z" fill="#1b1a19" stroke="#1b1a19" stroke-width="0.6" stroke-linejoin="round"/>
<path d="M736.7,302.1L738.4,301.5L740.6,300.8L744.2,299.7L750.5,298.2L752.6,297.8L755,297.3L757.6,296.7L760.4,296.2L763.4,295.6L766.6,294.9L769.8,294.3L773.2,293.6L776.6,293L780.1,292.3L783.6,291.6L787.1,290.9L790.6,290.2L794,289.5L797.3,288.9L800.5,288.3L803.6,287.6L806.8,287L810,286.3L813.2,285.6L816.4,285L819.6,284.3L822.9,283.6L826.1,282.9L829.3,282.3L832.4,281.6L835.5,281L838.6,280.4L841.7,279.8L844.6,279.2L847.5,278.6L850.4,278.1L853.8,277.5L857.2,276.9L860.6,276.3L863.9,275.7L867.2,275.2L870.4,274.6L873.5,274.1L876.5,273.6L879.5,273.1L882.3,272.6L885.1,272.2L887.7,271.8L890.2,271.4L894.6,270.7L898.7,269.9L902.4,269.1L905.8,268.3L908.7,267.6L911.1,267.1L913,266.7L913,266.3L911,266.5L908.5,266.7L905.5,266.9L902.1,267.2L898.3,267.6L894.2,268L889.8,268.6L887.3,269L884.7,269.3L881.9,269.6L879.1,270L876.1,270.3L873,270.7L869.8,271L866.6,271.4L863.3,271.8L859.9,272.3L856.5,272.8L853.1,273.3L849.6,273.9L846.8,274.4L843.8,274.9L840.8,275.5L837.8,276.1L834.7,276.7L831.5,277.3L828.4,277.9L825.2,278.6L822,279.2L818.7,279.9L815.5,280.5L812.3,281.2L809.1,281.8L805.9,282.5L802.7,283.1L799.5,283.7L796.4,284.4L793.1,285L789.7,285.7L786.2,286.4L782.7,287.1L779.2,287.8L775.7,288.4L772.3,289.1L768.9,289.8L765.7,290.4L762.5,291.1L759.5,291.7L756.7,292.2L754.1,292.8L751.7,293.3L749.5,293.8L743.1,295.3L739.2,296.5L736.9,297.3L735.3,297.9Z" fill="#1b1a19" stroke="#1b1a19" stroke-width="0.6" stroke-linejoin="round"/>
<path d="M802,329.3L804.2,330.3L807.5,331.7L811.2,333L814.2,333.8L817.3,334.5L820.8,335.1L824.7,335.6L827.8,335.8L831.1,336L834.6,336.1L838.2,336.1L841.7,336.1L845,336.1L847.9,336.1L850.5,336L853.1,335.9L855.9,335.8L859.2,335.5L863.3,335.1L865.7,334.8L868.3,334.5L871.2,334.2L874.2,333.8L877.3,333.4L880.6,332.9L883.9,332.5L887.2,332L890.6,331.4L893.9,330.9L897.2,330.3L900.4,329.7L903.4,329.1L906.4,328.4L909.5,327.7L912.7,326.8L915.8,326L919,325.1L922.1,324.2L925.1,323.3L928,322.5L930.8,321.6L933.5,320.8L936.1,320L938.4,319.3L942.4,318L946,316.6L949.2,315.1L952,313.7L954.5,312.5L956.5,311.5L958.1,310.7L957.9,310.3L956.2,310.9L954.1,311.6L951.5,312.4L948.5,313.4L945.2,314.4L941.6,315.5L937.6,316.7L935.3,317.3L932.7,318L930,318.7L927.2,319.4L924.2,320.1L921.2,320.8L918,321.5L914.9,322.2L911.7,322.8L908.6,323.5L905.5,324.1L902.5,324.7L899.6,325.3L896.4,325.9L893.2,326.4L889.9,326.9L886.6,327.3L883.2,327.7L879.9,328.1L876.7,328.5L873.6,328.8L870.6,329.1L867.8,329.4L865.1,329.7L862.7,329.9L858.7,330.3L855.5,330.6L852.8,330.7L850.4,330.8L847.9,330.9L845,330.9L841.7,330.9L838.2,330.9L834.7,330.9L831.3,330.8L828.1,330.6L825.3,330.4L821.5,330L818.3,329.4L815.4,328.7L812.8,328L809.3,326.9L806.2,325.6L804,324.7Z" fill="#1b1a19" stroke="#1b1a19" stroke-width="0.6" stroke-linejoin="round"/>
<path d="M847.8,385.7L849.3,384.2L851.5,382L854,379.4L856.6,376.8L859.3,374.3L861.8,372.1L864,370.2L865.9,368.5L867.6,367.1L869.7,365.7L872.4,364.2L876.1,362.5L878.2,361.7L880.5,360.8L883.1,359.9L885.9,358.9L888.8,358L891.8,357L895,356L898.1,355L901.3,354.1L904.5,353.1L907.7,352.2L910.7,351.3L913.7,350.4L916.8,349.5L919.9,348.6L922.9,347.6L926,346.7L929,345.8L932.1,344.9L935.1,343.9L938.2,343L941.2,342.1L944.3,341.3L947.3,340.4L950.4,339.5L953.6,338.7L957,337.7L960.5,336.6L964,335.5L967.6,334.4L971.1,333.3L974.4,332.2L977.6,331.2L980.5,330.2L983.1,329.4L985.3,328.8L987.1,328.2L986.9,327.8L985.1,328.2L982.9,328.8L980.2,329.4L977.3,330L974,330.7L970.6,331.5L967,332.3L963.4,333.1L959.8,333.9L956.2,334.8L952.8,335.6L949.6,336.5L946.5,337.3L943.4,338L940.3,338.8L937.2,339.5L934.1,340.2L931,340.9L927.9,341.6L924.8,342.3L921.7,343.1L918.6,343.9L915.4,344.7L912.3,345.6L909.3,346.5L906.3,347.3L903.1,348.2L899.9,349.2L896.7,350.1L893.5,351L890.3,352L887.2,352.9L884.2,353.8L881.3,354.8L878.7,355.7L876.2,356.6L873.9,357.5L869.9,359.3L866.8,361L864.4,362.7L862.3,364.3L860.4,366.1L858.2,367.9L855.6,370.3L852.8,373L850.2,375.8L847.7,378.5L845.7,380.7L844.2,382.3Z" fill="#1b1a19" stroke="#1b1a19" stroke-width="0.6" stroke-linejoin="round"/>
<path d="M135.8,6L135.9,8.6L136,12.4L136.1,16.6L136.5,20.4L137,23.7L137.1,26.9L137.4,30.3L138.1,33.9L139,37.2L139.8,40.7L140.5,44.3L141.2,47.7L141.9,51.1L142.4,53.8L142.8,56.6L143,59.6L143.3,62.7L143.5,65.8L143.8,68.9L144.2,71.9L144.5,75L144.8,78L145.1,81.1L145.4,84.2L145.7,87.2L146.1,90.3L146.6,93.4L147,96.4L147.5,99.5L147.9,102.5L148.3,105.5L148.7,108.5L149.1,111.6L149.4,114.6L149.8,117.5L150.1,120.5L150.3,123.4L150.5,126.5L150.5,129.6L150.4,132.9L150.3,136L150.2,139L150.3,141.6L150.4,145.6L150.5,149L151,153L151.7,156.1L152.8,159.4L154.1,162.7L155.3,165.9L156.3,168.7L159.3,173.3L162.8,176.5L166.6,177.1L169.1,176.2L169.1,175.8L167.6,174.3L166.6,172.5L166.3,169.9L165.7,165.3L165.1,163L164.6,159.9L164.2,156.7L163.8,153.5L163.4,151L163,147.9L162.9,145.1L162.7,141.2L162.6,138.6L162.3,135.6L162,132.5L161.7,129.2L161.4,125.8L161.1,122.6L160.8,119.4L160.4,116.3L160,113.2L159.5,110.2L159.1,107.1L158.7,104.1L158.3,101.1L157.8,98L157.4,95L157,91.9L156.6,88.9L156.3,86L155.9,83L155.6,79.9L155.2,76.9L154.9,73.9L154.5,70.8L154.2,67.7L153.8,64.7L153.5,61.6L153.1,58.5L152.6,55.4L152.1,52.2L151.5,48.9L150.4,45.2L148.9,41.6L147.3,38.2L145.9,35L144.9,32.1L143.8,28.7L142.5,25.7L141.3,22.8L140.5,19.6L139.5,15.9L138.2,12L137,8.5L136.2,6Z" fill="#1b1a19" stroke="#1b1a19" stroke-width="0.6" stroke-linejoin="round"/>
<path d="M153.3,118.9L152.5,115.3L150.7,110.3L148.8,107.1L146.6,103.9L144.2,100.5L142.6,98.3L140.9,95.9L139,93.4L136.9,90.8L134.7,88.3L132.4,85.8L129.9,83.3L127.3,80.8L124.4,78.4L121.2,76L118.2,74L114.9,72.1L111.5,70.2L108.2,68.5L104.9,67L102,65.6L98.1,64.2L94.5,63.3L91.4,62.8L88.6,62.3L85.2,61.9L82,61.7L78.6,61.7L75.6,61.7L72.2,61.8L68.8,62L65.5,62.4L61.4,63.1L57.6,63.9L53.8,65L49.9,66.2L46.1,67.6L42.6,69.1L39.3,70.5L36,72.3L32.4,74.9L30.2,77L28,79.2L25.8,81.6L23.5,84.2L21.4,86.8L19.5,89.2L17.5,92L15.6,94.8L13.8,97.6L12.1,100.6L10.6,104L9.3,107L8.2,110.2L7.2,113.5L6.2,116.9L5.3,120.5L4.5,124.3L3.9,127.3L3.4,130.4L2.9,133.7L2.5,137L2.2,140.4L1.8,143.6L1.6,146.8L1.3,149.7L1.1,153.4L0.9,156.8L0.9,160.1L0.9,163.4L1,166.7L1.2,170.1L1.3,173.3L1.5,176.5L1.6,179.8L1.9,183.1L2.1,186.4L2.4,189.7L2.8,192.9L3.1,196.1L3.4,199.4L3.7,202.7L4.1,205.9L4.4,209.2L4.9,212.5L5.4,215.8L6.1,219L6.8,222.2L7.6,225.3L8.5,228.4L9.3,231.6L10.1,234.7L10.8,237.8L11.6,241.1L12.6,244.5L13.5,247.8L14.5,251.2L15.4,254.4L16.2,257.6L16.8,260.5L17.7,264.4L18.8,268.3L19.9,271.8L20.8,274.8L21.3,277L21.7,277L21.8,274.7L22.1,271.6L22.5,267.8L22.6,263.7L22.2,259.5L21.7,256.5L21.2,253.2L20.6,249.8L20.1,246.4L19.5,242.9L18.8,239.5L18.2,236.2L17.4,232.9L16.7,229.8L16.1,226.6L15.4,223.5L14.8,220.4L14.2,217.3L13.6,214.2L13,211.1L12.4,208L11.9,204.8L11.4,201.7L10.9,198.5L10.4,195.3L10,192.1L9.6,188.9L9.2,185.6L8.8,182.4L8.4,179.2L8.1,176L7.8,172.9L7.6,169.9L7.5,166.5L7.5,163.3L7.5,160.2L7.7,157.1L7.8,153.8L8.1,150.3L8.3,147.4L8.7,144.3L9,141.1L9.5,137.9L9.9,134.7L10.4,131.5L11,128.5L11.5,125.7L12.3,122.2L13.2,118.8L14.2,115.6L15.2,112.6L16.3,109.7L17.4,107L18.8,104L20.3,101.4L21.8,98.9L23.6,96.4L25.5,93.8L27.3,91.4L29.3,89L31.3,86.6L33.4,84.3L35.4,82.2L37,80.7L39.9,78.5L42.5,77.2L45.4,75.9L48.8,74.4L52.3,73.1L55.8,72L59.3,71L62.9,70.2L66.5,69.6L69.4,69.3L72.6,69.1L75.7,69L78.6,68.9L81.7,69L84.4,69.2L87.4,69.7L90.1,70.1L92.9,70.7L95.7,71.5L99,72.8L101.6,74L104.6,75.5L107.7,77.2L110.9,79L113.8,80.9L116.4,82.6L119.2,84.7L121.7,87L124.1,89.3L126.3,91.6L128.5,93.9L130.5,96.2L132.3,98.5L134.1,100.9L135.8,103.3L137.4,105.5L139.9,108.8L142,111.6L143.7,114.1L146,118L147.7,121.1Z" fill="#1b1a19" stroke="#1b1a19" stroke-width="0.6" stroke-linejoin="round"/>
<path d="M67.5,123.8L65.2,123.1L61.5,123.8L59.1,125.6L56.5,127.7L53.8,130.3L51.5,133.4L49.9,136.1L48.4,139.1L47,142.3L45.8,145.7L44.8,149.4L44.2,152.6L43.8,155.9L43.6,159.3L43.5,162.8L43.4,166.4L43.3,169.9L43.2,173L43.2,176.3L43.4,179.5L43.5,182.8L43.6,186L43.7,189.2L43.6,192.4L43.5,195.6L43.3,198.9L43.1,202.1L42.9,205.4L42.7,208.6L42.3,211.7L41.9,214.7L41.3,218.1L40.6,221.3L39.7,224.3L38.7,227.5L37.7,230.7L36.6,234.3L35.7,237.1L34.5,240.1L33.3,243.3L32,246.5L30.6,249.8L29.4,253L28.2,256.1L27.1,259.1L25.9,262.8L24.7,266.5L23.6,269.9L22.5,273.1L21.6,276.1L20.7,278.7L19.3,282.1L17.7,284.9L16.1,287.9L14.7,291.6L14,295.2L13.5,298.9L13.2,302.6L12.8,306.2L12.5,309.4L12,312.6L11.6,315.4L11.3,318.6L10.9,322.6L10.7,325.2L10.5,328.1L10.2,331.3L10,334.7L9.9,338.1L9.7,341.5L9.6,344.8L9.6,348L9.6,351.3L9.7,354.6L9.9,357.7L10.1,360.8L10.4,364L10.8,367.2L11.3,370.6L11.8,373.6L12.4,376.7L13,379.8L13.6,383.1L14.4,386.4L15.2,389.7L16.2,392.9L17.3,396.2L18.5,399.2L19.8,402.1L21.1,405L22.6,407.8L24,410.6L25.5,413.4L27,416.1L28.3,418.9L29.7,421.6L30.9,424.4L32.2,427.2L33.5,430L34.7,432.8L35.9,435.5L37,438.3L38,441L39,443.7L40,446.4L40.9,449.4L41.6,452.4L42.3,455.5L42.8,458.5L43.3,461.6L43.8,464.8L44.3,467.9L44.8,471L45.5,474.1L46.1,477L46.8,480L47.4,482.9L48,485.9L48.6,489L49.1,492.2L49.6,495.6L50,498.3L50.4,501.2L50.8,504.1L51.2,507.1L51.6,510.1L52,513.2L52.5,516.3L52.9,519.4L53.3,522.5L53.7,525.5L54.2,528.5L54.6,531.5L55,534.6L55.4,537.6L55.8,540.7L56.3,543.8L56.8,546.8L57.4,549.9L58.1,552.9L58.8,555.9L59.7,559.2L60.6,562.5L61.6,565.8L62.7,569L63.8,572.3L64.9,575.4L66.2,578.6L67.5,581.7L68.9,584.7L70.3,587.7L71.9,590.8L73.4,593.8L75.1,596.8L76.7,599.7L78.5,602.6L80.3,605.3L82.1,607.9L84,610.3L86.4,613.2L88.8,615.9L91.2,618.5L93.8,621L96.5,623.3L99.5,625.4L102.7,627.2L105.8,628.7L109.1,630.1L112.5,631.3L116,632.4L119.5,633.3L123,634L126.3,634.6L129.5,635L133.6,635.2L137.6,635.1L141.4,634.7L144.9,634L148.3,633.1L151.7,632.1L155.4,630.6L159,628.8L162.3,626.7L165.3,624.4L168.2,622L170.9,619.2L173.4,615.9L175.4,612.8L177,610.1L178.2,608.4L171.8,603.6L170.4,605.4L168.5,607.8L166.3,610.4L164,612.9L161.8,615L159.5,616.8L156.9,618.5L154.2,620.1L151.4,621.4L148.3,622.5L145.7,623.3L142.8,623.9L139.9,624.4L136.9,624.7L133.8,624.8L130.5,624.6L127.8,624.3L124.9,623.8L121.8,623.2L118.7,622.5L115.6,621.6L112.6,620.6L109.8,619.5L107.3,618.4L104.7,616.9L102.3,615.3L99.9,613.6L97.7,611.7L95.4,609.6L93.2,607.3L91,604.7L89.3,602.5L87.5,600.2L85.8,597.7L84,595.2L82.3,592.5L80.6,589.7L79,586.9L77.5,584.1L76.1,581.3L74.8,578.4L73.5,575.5L72.3,572.6L71.1,569.6L70,566.5L68.9,563.4L68,560.3L67,557.2L66.2,554.1L65.5,551.2L64.9,548.4L64.3,545.5L63.8,542.5L63.4,539.6L62.9,536.6L62.5,533.5L62.1,530.5L61.7,527.5L61.3,524.5L60.9,521.5L60.5,518.5L60.3,515.4L60,512.3L59.8,509.3L59.5,506.2L59.3,503.2L59,500.2L58.7,497.3L58.4,494.4L57.9,491L57.6,487.8L57.2,484.6L56.9,481.4L56.6,478.3L56.2,475.2L55.7,472.1L55.2,469L54.5,465.9L53.8,462.7L52.9,459.6L52.1,456.5L51.1,453.3L50.2,450.1L49.1,446.9L48,443.6L47,440.7L45.8,437.9L44.5,435L43.2,432.2L41.8,429.5L40.4,426.7L39,423.9L37.7,421.2L36.3,418.4L35,415.6L33.5,412.7L32,409.9L30.5,407.2L29,404.4L27.6,401.7L26.3,399L25.1,396.4L24.1,393.8L23.1,390.8L22.1,387.7L21.3,384.6L20.6,381.5L19.9,378.5L19.3,375.4L18.8,372.4L18.3,369.4L17.8,366.2L17.3,363.2L17,360.2L16.7,357.2L16.6,354.3L16.4,351.2L16.4,348L16.5,345L16.6,341.9L16.9,338.6L17.2,335.2L17.6,331.9L17.9,328.8L18.2,325.9L18.5,323.4L18.9,319.4L19.4,316.6L20,313.9L20.5,310.6L21.1,307.4L21.9,304L22.7,300.5L23.6,297.2L24.3,294.4L25.1,291.3L26,288.5L27,285.2L28.3,281.3L29.1,278.2L29.8,275L30.4,271.6L31,268.1L31.8,264.6L32.9,260.9L33.8,258.1L34.8,255L36,251.8L37.1,248.5L38.3,245.2L39.4,241.9L40.4,238.7L41.4,235.7L42.4,232.1L43.2,228.6L43.9,225.3L44.4,222.1L45,218.7L45.5,215.3L45.9,212.1L46.3,208.9L46.7,205.7L47,202.4L47.2,199.1L47.4,195.8L47.6,192.6L47.7,189.3L47.8,186L47.9,182.7L47.9,179.4L48,176.2L48,173.1L48.1,170.1L48.3,166.6L48.5,163.1L48.8,159.7L49.1,156.5L49.6,153.5L50.2,150.6L51.1,147.5L52.3,144.5L53.6,141.6L55.1,139L56.5,136.6L58.3,133.8L60.2,131.1L62.1,128.8L63.5,127.2L65.9,125.2L67.5,124.2Z" fill="#1b1a19" stroke="#1b1a19" stroke-width="0.6" stroke-linejoin="round"/>
<path d="M174.3,591.1L174.1,593.2L173.5,596.3L173.3,600.2L173.3,602.7L173.1,605.4L172.9,608.5L172.8,612.4L173,617.2L173.2,619.6L173.3,622.2L173.5,624.9L173.7,627.9L173.8,630.9L174,634.1L174.2,637.3L174.4,640.5L174.6,643.8L174.9,647.1L175.1,650.3L175.4,653.4L175.7,656.6L176.1,659.9L176.5,663.2L176.9,666.6L177.4,670L177.8,673.4L178.2,676.7L178.7,679.9L179,683L179.4,686L179.7,688.8L180,691.4L180.4,695.3L181,698.6L181.6,701.6L182.2,704.3L182.7,706.9L183.1,709.4L183.3,712.1L183.5,715.4L183.8,718.9L184.1,722.3L184.4,725.4L184.7,728.1L184.8,730L185.2,730L185.4,728.1L185.9,725.5L186.4,722.3L186.9,718.9L187.2,715.4L187.3,711.9L187.3,709.2L187.4,706.6L187.5,703.9L187.7,701.1L187.8,698L187.7,694.6L187.4,690.6L187.2,688.1L187,685.2L186.7,682.3L186.4,679.1L186.2,675.9L185.9,672.5L185.6,669.1L185.3,665.7L185.1,662.3L184.8,659L184.5,655.7L184.2,652.6L183.9,649.4L183.5,646.2L183.1,643L182.7,639.8L182.3,636.5L181.9,633.3L181.5,630.2L181.1,627.2L180.8,624.3L180.4,621.6L180.2,619L180,616.8L179.6,612.1L179.2,608.3L178.8,605.2L178.5,602.5L178.3,599.8L177.4,595.9L176.1,592.9L175.3,590.9Z" fill="#1b1a19" stroke="#1b1a19" stroke-width="0.6" stroke-linejoin="round"/>
<path d="M165,606L174.8,591L178.5,612L174,622L166,614Z" fill="#1b1a19"/>
<path d="M28.6,167L28.8,164L29.1,159.8L29.4,155.8L30,152.4L31.1,149.2L32.3,145.9L33.4,143.3L34.8,140.7L36.4,138.2L37.9,136L40.2,133.2L42.9,130.8L45.6,128.8L48.4,127.2L51.6,126L54.6,125.2L57.5,124.8L60.5,124.8L63.3,125.2L65.8,125.8L68.3,126.8L70.8,128.3L72.8,129.8L74.8,131.6L76.9,133.7L79,136L81.2,138.5L83.5,141.1L85.7,143.9L87.7,146.8L89.6,149.6L91.4,152.5L93.2,155.5L94.9,158.8L96.4,161.7L97.8,164.9L99.3,168.1L100.6,171.3L101.8,174.4L103.2,178.2L104.5,182.1L105.6,185.6L106.4,188.1L113.6,185.9L112.9,183.4L111.8,179.9L110.6,175.7L109.2,171.6L107.9,168.4L106.5,165L105.1,161.6L103.6,158.3L102.1,155.2L100.2,151.7L98.3,148.4L96.3,145.3L94.3,142.2L92,139.1L89.7,136.1L87.3,133.3L85,130.6L82.6,128.1L80.3,125.8L77.9,123.6L75.4,121.7L72.1,119.6L68.7,117.9L65.1,116.8L61.1,116.3L57,116.3L52.8,116.8L48.7,118.1L44.8,119.9L41,122.2L37.7,125.1L34.7,128.4L32.1,132L30.5,135L29.3,138.3L28.4,141.4L27.5,144.5L26.7,148.2L26.5,151.9L26.4,155.6L26.7,159.9L27.6,164.1L28.2,167Z" fill="#1b1a19" stroke="#1b1a19" stroke-width="0.6" stroke-linejoin="round"/>
<path d="M98,147.1L98.2,144.8L98.7,141.5L99.1,138.3L99.5,134.8L100.6,131.2L101.6,129.1L103.1,126.6L104.8,124.2L106.7,122.3L109,120.5L111.9,119L114.9,117.7L117.9,116.8L121,116.4L124.3,116.3L127.6,116.7L130.5,117.3L133,118.2L135.4,119.6L137.7,121.3L139.6,122.9L141.6,124.8L143.1,127L144.7,129.4L146.4,131.9L148,134.3L149.3,136.6L151.2,140.2L152.6,142.9L158.4,141.1L157.8,137.8L156.7,133.4L155.4,130.5L153.9,127.4L152.3,124.6L150.5,121.9L148.4,119L145.6,116.1L142.9,114.1L139.9,112.2L136.5,110.4L132.7,109.1L128.7,108.4L124.5,108.3L120.2,108.5L116.1,109.2L112.2,110.4L108.4,112.2L104.9,114.3L101.7,116.7L99.1,119.6L96.9,122.7L95.2,125.8L93.8,128.8L92.5,133.4L92.1,137.7L91.9,141L92,144.5L92,146.9Z" fill="#1b1a19" stroke="#1b1a19" stroke-width="0.6" stroke-linejoin="round"/>
<path d="M107.5,203.6L105.4,204L102.3,204.7L98.7,205.7L95,206.8L91.6,208.2L88.7,210L86,212.1L83.6,214.5L81.2,216.8L79,218.9L76.2,221.8L73.6,225L71.4,227.9L69.8,229.8L70.2,230.2L72.1,228.5L74.8,226.2L78,223.7L81,221.1L83.3,219L85.8,217L88.3,215L90.9,213.2L93.4,211.8L96.3,210.7L99.7,209.9L103.2,209.3L106.3,208.9L108.5,208.4Z" fill="#1b1a19" stroke="#1b1a19" stroke-width="0.6" stroke-linejoin="round"/>
<path d="M112.7,232.3L110.8,232.5L108.1,232.8L104.9,233.2L101.3,233.8L97.6,234.8L94,236.2L91.4,237.6L88.8,239.3L86.2,241.2L83.6,243.2L81.1,245.4L78.6,247.7L76.2,250L73.8,252.2L71.4,254.8L69,257.7L66.7,260.9L64.5,264.1L62.4,267.1L60.6,269.9L59,272.2L57.8,273.8L58.2,274.2L59.5,272.6L61.4,270.5L63.6,268L66,265.3L68.6,262.5L71.3,259.7L73.8,257.1L76.2,254.8L78.6,252.6L81.1,250.5L83.6,248.5L86.2,246.6L88.8,244.9L91.4,243.3L93.8,241.9L96,240.8L99.1,239.6L102.3,238.9L105.6,238.4L108.7,238.2L111.3,238L113.3,237.7Z" fill="#1b1a19" stroke="#1b1a19" stroke-width="0.6" stroke-linejoin="round"/>
<path d="M128.2,296L127.2,299.5L125.4,303.7L123.9,305.5L121.9,307.4L119.1,308.9L116.8,309.7L113.9,310.5L110.7,311.2L107.5,311.8L104.7,312.3L101.1,312.9L97.9,313.5L94.6,314.3L91.2,316.1L88.1,318.3L85.9,319.8L86.1,320.2L88.5,319.2L92,317.8L95.4,316.7L98.3,316.2L101.5,316.1L105.3,315.7L108.1,315.3L111.3,315L114.7,314.5L118,313.9L120.9,313.1L124.5,311.2L127.3,309L129.6,306.3L132.2,301.7L133.8,298Z" fill="#1b1a19" stroke="#1b1a19" stroke-width="0.6" stroke-linejoin="round"/>
<path d="M162.4,323.6L160.1,324.1L156.9,324.9L153.2,325.8L149.6,326.5L146.8,327L143.9,327.4L140.8,327.9L137.7,328.5L134.6,329L131.5,329.8L128.3,330.9L125.2,332L122.3,333L119.7,333.8L115.7,335.1L112.3,336.4L109.9,337.3L110.1,337.7L112.5,337.4L116.2,337L120.3,336.2L123,335.5L126.1,334.9L129.2,334.2L132.4,333.6L135.4,333L138.3,332.5L141.4,332.2L144.4,332L147.4,331.8L150.4,331.5L154.2,330.9L158,330.3L161.3,329.8L163.6,329.4Z" fill="#1b1a19" stroke="#1b1a19" stroke-width="0.6" stroke-linejoin="round"/>
<path d="M50.8,303.9L49.9,306L48.6,308.8L47,312.2L45.6,315.9L44.5,319.7L43.9,322.7L43.2,325.7L42.6,328.9L42,332.3L41.6,336L41.5,340L41.5,342.7L41.5,345.6L41.6,348.8L41.6,352L41.7,355.3L41.9,358.6L42.1,361.9L42.3,365L42.6,367.9L43.1,370.6L43.8,374.3L44.8,377.6L45.8,380.5L47,383.2L48.3,385.9L49.8,388.9L51.3,391.7L52.9,394.6L54.7,397.6L56.5,400.7L58.5,403.7L60.7,406.6L62.9,409.3L65.4,411.9L68,414.4L70.8,416.6L73.6,418.7L76.2,420.7L78.5,422.7L80.6,424.5L83.1,427.1L85.2,429.4L87,431.5L88.5,433.8L89.7,436.2L90.7,439L91.4,442.2L91.9,445.7L92.4,449.4L92.9,453L93.5,456.5L93.8,460.1L94.3,463.7L94.9,467.5L95.9,471.1L97.3,474.5L98.9,477.9L100.7,481.1L102.8,484L105.2,486.7L108.6,489.1L112.4,490.9L116.2,492L120,492.5L124.5,491.9L128.6,490.1L132.2,487.4L134.7,484.4L136.8,480.8L138.5,477.6L139.6,475.5L134.4,472.5L133.1,474.7L131.4,477.7L129.5,480.6L127.8,482.6L125.4,484.3L122.8,485.3L120,485.5L117.7,485.2L114.9,484.4L112.2,483.1L109.8,481.3L108.1,479.6L106.4,477.3L104.7,474.7L103.3,471.8L102.1,468.9L101.2,466L100.6,462.8L100.1,459.3L99.6,455.6L99.1,452L98.5,448.5L98,444.8L97.4,441.1L96.5,437.4L95.3,433.8L93.6,430.7L91.6,428L89.5,425.5L87.1,423.1L84.4,420.5L82.2,418.4L79.6,416.3L77,414.3L74.3,412.2L71.7,410.1L69.3,407.9L67.1,405.7L65.1,403.2L63.2,400.5L61.4,397.6L59.7,394.7L58.1,391.7L56.6,388.9L55.2,386.1L53.7,383.2L52.4,380.7L51.4,378.3L50.5,375.8L49.7,372.9L48.9,369.4L48.6,367L48.2,364.3L47.8,361.3L47.5,358.2L47.2,355L47,351.8L46.8,348.6L46.6,345.5L46.5,342.6L46.5,340L46.5,336.1L46.5,332.6L46.6,329.3L46.7,326.3L47,323.3L47.5,320.3L48.2,316.6L49,312.9L49.9,309.3L50.6,306.2L51.2,304.1Z" fill="#1b1a19" stroke="#1b1a19" stroke-width="0.6" stroke-linejoin="round"/>
<path d="M160.8,354.1L161.5,357.1L162.2,361.4L162.9,365.3L163.2,368.5L163.1,371.6L162.8,374.8L162.3,378.2L161.4,381.6L160.2,385.1L158.8,387.8L157.1,390.7L155.2,393.6L153.3,396.4L151.2,399.1L149,401.8L146.7,404.3L144.8,406.5L141.3,410.4L138.8,412.9L143.2,417.1L145.7,414.4L149.2,410.5L151.2,408.1L153.4,405.4L155.6,402.5L157.7,399.6L159.7,396.6L161.6,393.4L163.4,390.1L164.8,386.9L166.1,382.9L166.8,378.9L167.2,375.2L167.2,371.6L166.8,368.2L166.1,364.7L164.6,360.6L162.6,356.7L161.2,353.9Z" fill="#1b1a19" stroke="#1b1a19" stroke-width="0.6" stroke-linejoin="round"/>
<path d="M79.8,491.8L81.3,494.2L83.4,497.7L85.8,501.1L88.3,504L90.8,507L93.5,509.8L96.6,512.1L99.7,514.3L102.8,516.2L105.6,517.7L108.5,518.9L111.7,520.2L114.5,521L117.5,521.7L120.7,522.3L123.7,523L127.9,523.5L132.1,523.6L135,523.7L135,523.3L132.3,522.5L128.3,521.2L124.3,520L121.5,519.2L118.6,518.1L115.9,516.9L113.3,515.8L110.4,514.6L107.9,513.3L105.2,511.8L102.3,510.1L99.3,508.3L96.5,506.2L93.7,504L90.8,501.5L88.2,498.9L85.3,496.1L82.2,493.4L80.2,491.4Z" fill="#1b1a19" stroke="#1b1a19" stroke-width="0.6" stroke-linejoin="round"/>
<path d="M46.2,479.2L46.8,481.3L47.7,484.2L48.8,487.7L50,491.3L51.3,494.6L53.2,498.1L55.2,501.1L57.3,504L59.3,506.8L61.1,509.5L63.1,512L65.3,514.6L68,517.4L70.3,519.5L72.9,521.6L75.8,523.7L78.7,525.7L81.4,527.7L84,529.5L87.8,531.7L91.7,533.4L95.1,534.7L97.4,535.7L97.6,535.3L95.6,533.8L92.7,531.6L89.4,529.1L86,526.5L83.7,524.7L81.2,522.5L78.7,520.2L76.2,517.8L73.9,515.6L72,513.6L69.6,510.9L67.9,508.4L66.4,505.9L64.7,503.2L63,500.4L61.4,497.4L60,494.4L58.7,491.4L57.5,488.6L56.4,485.3L55.4,481.9L54.5,478.9L53.8,476.8Z" fill="#1b1a19" stroke="#1b1a19" stroke-width="0.6" stroke-linejoin="round"/>
<line x1="437.5" y1="213.5" x2="557" y2="303.5" stroke="#1b1a19" stroke-width="2.7"/>
<circle cx="557" cy="303.5" r="3.9" fill="#1b1a19"/>
<line x1="557" y1="194" x2="587.5" y2="311" stroke="#1b1a19" stroke-width="2.7"/>
<circle cx="587.5" cy="311" r="3.9" fill="#1b1a19"/>
<line x1="599" y1="109" x2="665.5" y2="332.5" stroke="#1b1a19" stroke-width="2.7"/>
<circle cx="665.5" cy="332.5" r="3.9" fill="#1b1a19"/>
<line x1="869.5" y1="136" x2="732" y2="234.5" stroke="#1b1a19" stroke-width="2.7"/>
<circle cx="732" cy="234.5" r="3.9" fill="#1b1a19"/>
<line x1="829" y1="234" x2="752.5" y2="285" stroke="#1b1a19" stroke-width="2.7"/>
<circle cx="752.5" cy="285" r="3.9" fill="#1b1a19"/>
<line x1="890" y1="395" x2="852.5" y2="350.5" stroke="#1b1a19" stroke-width="2.7"/>
<circle cx="852.5" cy="350.5" r="3.9" fill="#1b1a19"/>
<line x1="850" y1="477.5" x2="788" y2="442" stroke="#1b1a19" stroke-width="2.7"/>
<circle cx="788" cy="442" r="3.9" fill="#1b1a19"/>
<line x1="746" y1="610.5" x2="765" y2="527.5" stroke="#1b1a19" stroke-width="2.7"/>
<circle cx="765" cy="527.5" r="3.9" fill="#1b1a19"/>
<line x1="664" y1="660" x2="676" y2="410" stroke="#1b1a19" stroke-width="2.7"/>
<circle cx="676" cy="410" r="3.9" fill="#1b1a19"/>
<line x1="577.5" y1="519" x2="634" y2="433" stroke="#1b1a19" stroke-width="2.7"/>
<circle cx="634" cy="433" r="3.9" fill="#1b1a19"/>
<line x1="386" y1="617.5" x2="559.5" y2="394" stroke="#1b1a19" stroke-width="2.7"/>
<circle cx="559.5" cy="394" r="3.9" fill="#1b1a19"/>
<line x1="284" y1="485" x2="359" y2="403" stroke="#1b1a19" stroke-width="2.7"/>
<circle cx="359" cy="403" r="3.9" fill="#1b1a19"/>
<text x="590.5" y="55.7" font-size="27.3" text-anchor="middle">Stapes</text>
<text x="588.5" y="76.6" font-size="19.2" text-anchor="middle">(attached to</text>
<text x="590" y="96.3" font-size="19.2" text-anchor="middle">oval window)</text>
<text x="514.5" y="181" font-size="27.3" text-anchor="start">Incus</text>
<text x="373.5" y="204.8" font-size="27.3" text-anchor="start">Malleus</text>
<text x="982" y="117.5" font-size="27.3" text-anchor="end">Semicircular</text>
<text x="982" y="145.6" font-size="27.3" text-anchor="end">Canals</text>
<text x="834" y="210.7" font-size="27.3" text-anchor="start">Vestibular</text>
<text x="833.7" y="237.6" font-size="27.3" text-anchor="start">Nerve</text>
<text x="891.5" y="418" font-size="27.3" text-anchor="start">Cochlear</text>
<text x="891.5" y="446" font-size="27.3" text-anchor="start">Nerve</text>
<text x="855" y="495.3" font-size="27.3" text-anchor="start">Cochlea</text>
<text x="699" y="640.5" font-size="27.3" text-anchor="start">Eustachian Tube</text>
<text x="662.5" y="687" font-size="27.3" text-anchor="middle">Round</text>
<text x="662.5" y="714.5" font-size="27.3" text-anchor="middle">Window</text>
<text x="701.8" y="733.2" font-size="19.3" text-anchor="middle">(closed with membrane)</text>
<text x="505" y="543.5" font-size="27.3" text-anchor="start">Tympanic</text>
<text x="505" y="571" font-size="27.3" text-anchor="start">Cavity</text>
<text x="377" y="644.5" font-size="27.3" text-anchor="middle">Tympanic</text>
<text x="377" y="672.3" font-size="27.3" text-anchor="middle">Membrane</text>
<text x="279" y="521.3" font-size="27.3" text-anchor="middle">External</text>
<text x="279" y="549" font-size="27.3" text-anchor="middle">Auditory Canal</text>
</svg>
</body>
</html>
